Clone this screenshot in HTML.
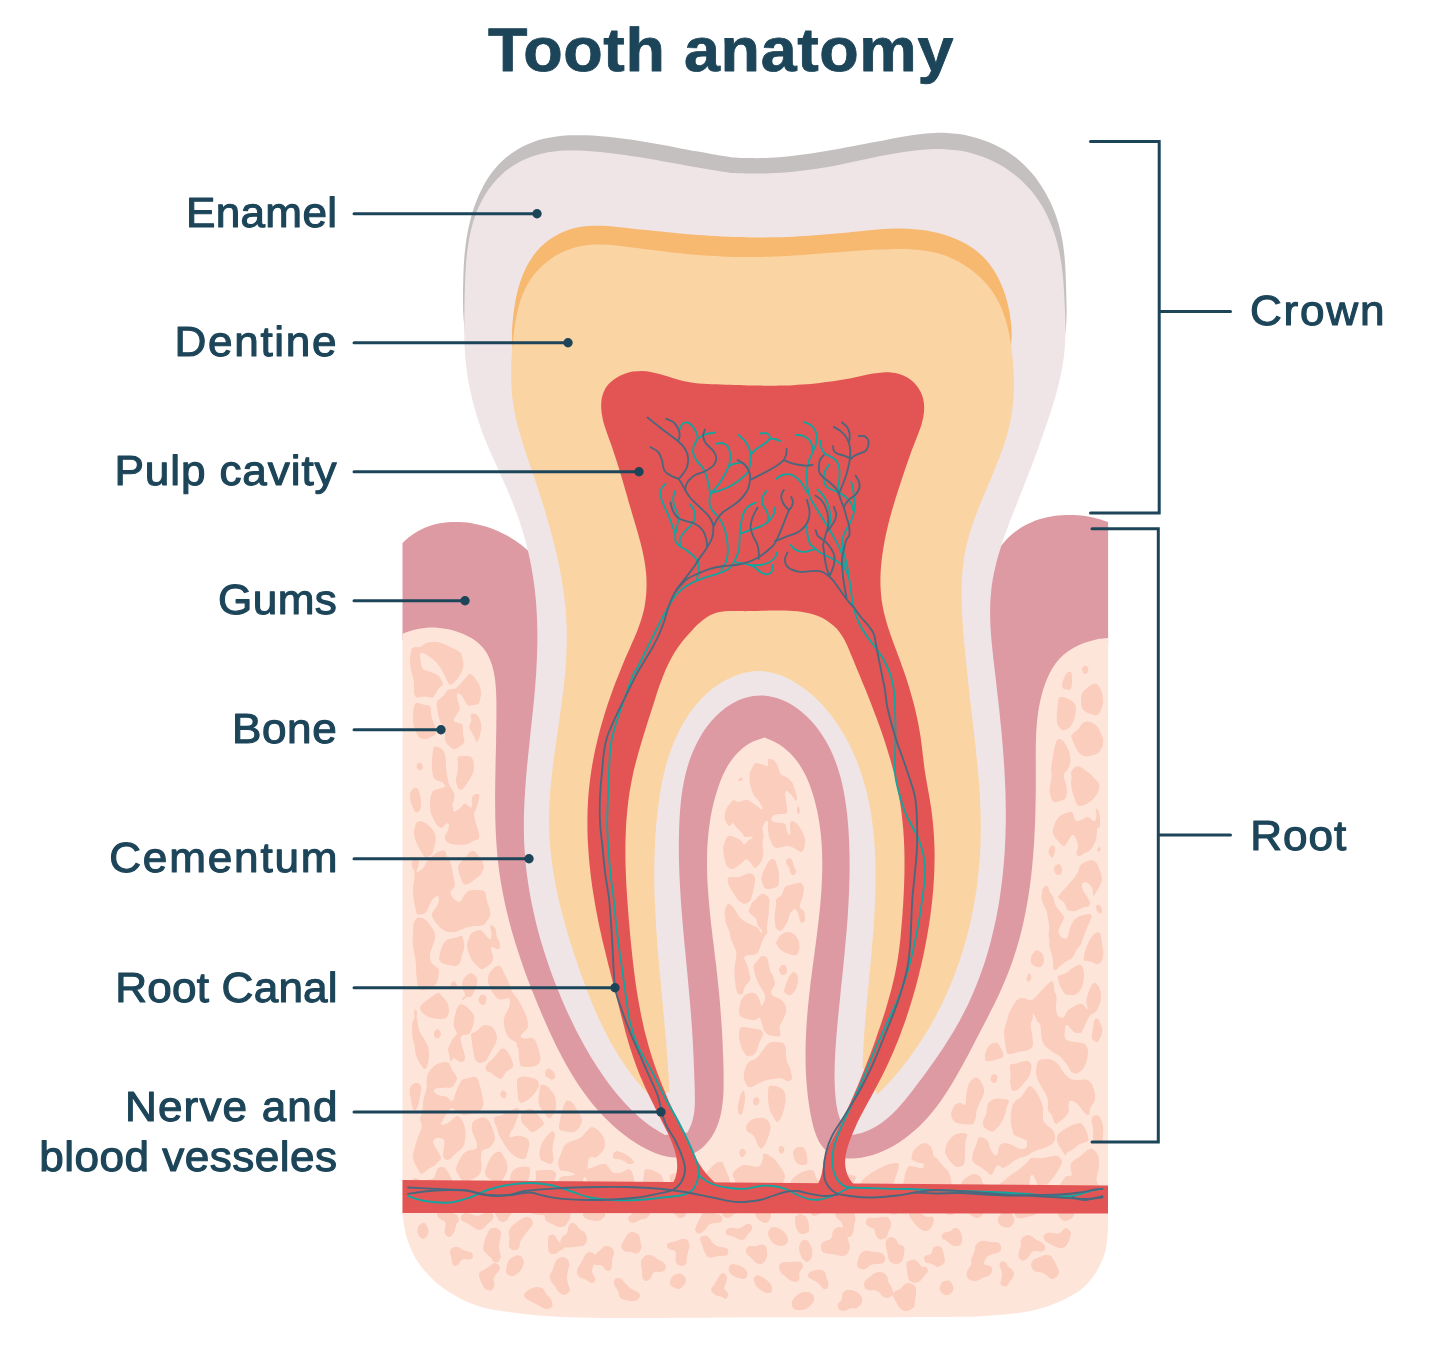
<!DOCTYPE html>
<html lang="en">
<head>
<meta charset="utf-8">
<title>Tooth anatomy</title>
<style>
html,body{margin:0;padding:0;background:#fff;}
body{width:1440px;height:1346px;overflow:hidden;}
svg{display:block;}
</style>
</head>
<body>
<svg width="1440" height="1346" viewBox="0 0 1440 1346" role="img" aria-label="Tooth anatomy diagram">
<path fill="#de9aa3" d="M402.5 640L402.5 543.1C403.5 542.2 406.4 539.3 408.5 537.6C410.6 535.9 412.7 534.4 414.9 533C417.1 531.6 419.4 530.4 421.7 529.2C424 528.1 426.4 527.1 428.8 526.3C431.2 525.4 433.7 524.7 436.2 524.1C438.6 523.5 441.2 523.1 443.7 522.7C446.3 522.3 448.9 522.1 451.4 522C454 521.9 456.6 521.9 459.3 522C461.9 522.1 464.5 522.3 467.1 522.6C469.7 522.9 472.3 523.3 474.9 523.9C477.5 524.4 480.1 525 482.7 525.7C485.2 526.4 487.8 527.2 490.3 528.1C492.8 529 495.3 530 497.7 531C500.1 532.1 502.5 533.3 504.9 534.5C507.2 535.7 509.5 537 511.8 538.4C514 539.7 516.2 541.2 518.3 542.7C520.4 544.2 522.4 545.8 524.4 547.4C526.3 549 529.1 551.7 530 552.5L1000.5 546.5C1001.4 545.5 1003.9 542.2 1005.7 540.2C1007.5 538.3 1009.4 536.4 1011.4 534.7C1013.4 533 1015.4 531.4 1017.6 529.9C1019.7 528.4 1021.9 527 1024.2 525.8C1026.5 524.5 1028.8 523.4 1031.2 522.4C1033.5 521.3 1036 520.4 1038.4 519.6C1040.9 518.8 1043.4 518.1 1046 517.5C1048.5 516.9 1051.1 516.4 1053.7 516C1056.3 515.6 1058.9 515.4 1061.5 515.2C1064.2 515 1066.8 514.9 1069.4 514.9C1072.1 514.9 1074.7 515 1077.4 515.2C1080 515.4 1082.7 515.7 1085.3 516.1C1087.9 516.5 1090.5 516.9 1093.1 517.5C1095.6 518.1 1098.2 518.7 1100.7 519.4C1103.2 520.2 1106.9 521.5 1108.1 521.9L1108.1 645L1070 700L1070 1170L470 1170L470 700Z"/>
<path id="bone" fill="#fee5da" d="M402.5 633.8C404.3 633.1 409.7 631 413.4 630C417.1 629 421 628.3 424.9 627.9C428.9 627.5 432.9 627.4 437 627.7C441.2 628 445.5 628.6 449.7 629.5C453.8 630.5 458.1 631.8 462 633.4C465.9 635 469.7 636.9 473 639.1C476.3 641.3 479.3 643.8 481.8 646.6C484.3 649.3 486.3 652.4 488.1 655.6C489.8 658.8 491.1 662.3 492.2 665.8C493.3 669.4 494.1 673.2 494.7 677C495.3 680.9 495.7 684.9 495.9 688.9C496.2 692.9 496.3 697 496.4 701.1C496.4 705.2 496.4 709.3 496.4 713.4C496.4 717.5 496.4 721.5 496.3 725.6C496.3 729.7 496.2 733.7 496.1 737.7C496.1 741.8 496 745.8 495.9 749.8C495.8 753.8 495.7 757.8 495.6 761.8C495.5 765.8 495.5 769.8 495.4 773.8C495.3 777.8 495.2 781.8 495.2 785.7C495.1 789.7 495.1 793.7 495.1 797.6C495.1 801.6 495.1 805.5 495.2 809.5C495.2 813.4 495.3 817.3 495.4 821.3C495.5 825.2 495.6 829.1 495.8 833.1C496 837 496.2 840.9 496.5 844.8C496.8 848.8 497.1 852.7 497.5 856.6C497.9 860.5 498.3 864.4 498.8 868.3C499.3 872.3 499.9 876.2 500.5 880.1C501.1 884 501.8 887.9 502.6 891.8C503.3 895.7 504.1 899.6 504.9 903.5C505.8 907.4 506.7 911.3 507.7 915.2C508.6 919.1 509.6 923 510.7 926.9C511.7 930.8 512.8 934.6 514 938.5C515.1 942.4 516.3 946.2 517.6 950.1C518.8 953.9 520.1 957.7 521.4 961.6C522.7 965.4 524 969.2 525.4 973C526.8 976.8 528.2 980.6 529.7 984.3C531.1 988.1 532.6 991.8 534.1 995.6C535.6 999.3 537.1 1003 538.7 1006.7C540.2 1010.4 541.8 1014.1 543.4 1017.8C545 1021.4 546.6 1025.1 548.2 1028.7C549.9 1032.3 551.5 1035.9 553.2 1039.4C554.9 1043 556.7 1046.6 558.4 1050.1C560.2 1053.6 562 1057.1 563.9 1060.5C565.8 1064 567.7 1067.4 569.7 1070.7C571.6 1074.1 573.7 1077.5 575.8 1080.7C577.9 1084 580.1 1087.3 582.4 1090.5C584.6 1093.7 587 1096.9 589.4 1100C591.9 1103.1 594.4 1106.2 597 1109.2C599.7 1112.2 602.4 1115.2 605.2 1118C608.1 1120.9 611 1123.8 614 1126.5C617.1 1129.2 620.2 1131.8 623.4 1134.3C626.6 1136.8 630 1139.2 633.4 1141.5C636.8 1143.7 640.3 1145.8 643.9 1147.7C647.5 1149.6 651.2 1151.4 654.9 1152.9C658.7 1154.4 662.5 1155.7 666.4 1156.5C670.2 1157.2 674.1 1157.6 677.9 1157.4C681.8 1157.2 685.6 1156.4 689.2 1155.2C692.8 1154 696.3 1152.2 699.4 1150C702.5 1147.7 705.5 1144.9 708 1141.8C710.5 1138.8 712.7 1135.4 714.5 1131.9C716.4 1128.4 717.8 1124.7 719 1121C720.2 1117.2 721.1 1113.3 721.7 1109.4C722.4 1105.4 722.9 1101.4 723.2 1097.3C723.5 1093.2 723.6 1089.1 723.6 1085C723.7 1080.9 723.6 1076.7 723.6 1072.6C723.5 1068.5 723.4 1064.5 723.3 1060.4C723.1 1056.4 723 1052.4 722.8 1048.4C722.7 1044.4 722.5 1040.4 722.3 1036.5C722.1 1032.5 721.8 1028.6 721.6 1024.7C721.3 1020.8 721 1016.9 720.7 1013C720.5 1009.1 720.1 1005.2 719.8 1001.3C719.5 997.4 719.1 993.5 718.7 989.6C718.3 985.7 717.9 981.8 717.5 977.9C717.1 974 716.6 970 716.2 966.1C715.7 962.2 715.2 958.2 714.7 954.2C714.3 950.3 713.8 946.3 713.3 942.3C712.8 938.3 712.3 934.4 711.9 930.4C711.4 926.4 710.9 922.4 710.5 918.4C710.1 914.4 709.7 910.3 709.3 906.3C708.9 902.3 708.6 898.3 708.3 894.3C708 890.3 707.7 886.3 707.5 882.3C707.3 878.3 707.2 874.3 707.1 870.3C707 866.3 707 862.3 707.1 858.3C707.1 854.3 707.2 850.3 707.4 846.4C707.7 842.4 707.9 838.4 708.3 834.5C708.7 830.5 709.2 826.6 709.8 822.7C710.3 818.8 711 814.9 711.8 811C712.6 807.1 713.5 803.2 714.5 799.4C715.6 795.5 716.7 791.7 718 787.9C719.3 784.1 720.7 780.3 722.3 776.6C723.9 773 725.6 769.4 727.6 766C729.7 762.6 731.8 759.4 734.3 756.4C736.8 753.5 739.5 750.7 742.5 748.2C745.5 745.8 748.8 743.6 752.4 741.8C756 740.1 762.3 738.3 764.3 737.6C766.2 738.4 772.3 740.6 775.8 742.5C779.4 744.4 782.6 746.7 785.6 749.2C788.6 751.6 791.4 754.4 793.9 757.3C796.4 760.2 798.7 763.4 800.8 766.7C802.8 770 804.7 773.5 806.4 777.1C808.1 780.7 809.5 784.4 810.9 788.2C812.2 791.9 813.4 795.8 814.5 799.7C815.5 803.6 816.4 807.6 817.3 811.5C818.1 815.4 818.8 819.4 819.4 823.3C820 827.3 820.5 831.2 820.9 835.2C821.3 839.1 821.6 843.1 821.8 847.1C822 851 822.2 855 822.2 859C822.3 862.9 822.3 866.9 822.2 870.9C822.1 874.9 822 878.8 821.8 882.8C821.6 886.8 821.4 890.8 821.1 894.8C820.8 898.7 820.4 902.7 820.1 906.7C819.7 910.7 819.3 914.7 818.8 918.6C818.4 922.6 817.9 926.6 817.4 930.6C816.9 934.5 816.4 938.5 815.9 942.5C815.4 946.4 814.8 950.4 814.3 954.4C813.8 958.3 813.2 962.3 812.7 966.2C812.2 970.2 811.7 974.1 811.2 978.1C810.7 982 810.2 985.9 809.8 989.9C809.3 993.8 808.9 997.7 808.5 1001.7C808.1 1005.6 807.7 1009.5 807.4 1013.4C807.1 1017.4 806.8 1021.3 806.5 1025.2C806.3 1029.2 806 1033.1 805.9 1037C805.7 1041 805.6 1044.9 805.6 1048.9C805.5 1052.8 805.5 1056.8 805.6 1060.8C805.6 1064.7 805.7 1068.7 805.9 1072.7C806.1 1076.7 806.4 1080.7 806.7 1084.7C807 1088.7 807.5 1092.8 807.9 1096.8C808.4 1100.9 809 1104.9 809.7 1109C810.3 1113 811 1117.2 812 1121.2C812.9 1125.2 813.9 1129.2 815.3 1132.9C816.7 1136.7 818.2 1140.4 820.2 1143.6C822.3 1146.7 824.6 1149.6 827.5 1151.8C830.3 1154 833.8 1155.6 837.4 1156.7C841 1157.8 845 1158.2 849 1158.4C852.9 1158.6 857 1158.3 861 1157.7C865 1157.1 868.9 1156.2 872.8 1155C876.7 1153.8 880.5 1152.3 884.2 1150.6C887.9 1148.9 891.5 1147 895 1144.9C898.5 1142.9 901.8 1140.6 905.1 1138.3C908.3 1135.9 911.3 1133.4 914.3 1130.8C917.3 1128.2 920.1 1125.5 922.8 1122.7C925.6 1119.9 928.2 1117 930.7 1114C933.2 1111 935.6 1107.9 938 1104.7C940.4 1101.6 942.6 1098.3 944.8 1095C947 1091.7 949.2 1088.4 951.2 1085C953.3 1081.6 955.3 1078.1 957.3 1074.6C959.3 1071.1 961.2 1067.6 963.2 1064.1C965.1 1060.5 967 1057 968.9 1053.4C970.7 1049.8 972.6 1046.2 974.5 1042.7C976.3 1039.1 978.2 1035.5 980 1032C981.9 1028.4 983.8 1024.9 985.6 1021.3C987.4 1017.8 989.3 1014.2 991 1010.6C992.8 1007.1 994.6 1003.5 996.3 999.9C998 996.4 999.7 992.8 1001.3 989.2C1002.9 985.6 1004.5 981.9 1006 978.3C1007.5 974.6 1009 971 1010.3 967.3C1011.7 963.6 1013 959.9 1014.2 956.1C1015.4 952.4 1016.6 948.6 1017.7 944.8C1018.8 941 1019.8 937.2 1020.8 933.4C1021.8 929.6 1022.7 925.7 1023.5 921.9C1024.4 918 1025.2 914.1 1025.9 910.2C1026.7 906.3 1027.3 902.4 1028 898.5C1028.6 894.6 1029.2 890.6 1029.8 886.7C1030.3 882.7 1030.8 878.8 1031.3 874.8C1031.7 870.8 1032.1 866.8 1032.5 862.8C1032.9 858.8 1033.2 854.8 1033.5 850.8C1033.8 846.8 1034.1 842.8 1034.3 838.8C1034.5 834.8 1034.7 830.8 1034.9 826.7C1035.1 822.7 1035.2 818.7 1035.3 814.7C1035.5 810.7 1035.5 806.6 1035.6 802.6C1035.7 798.6 1035.7 794.6 1035.8 790.5C1035.8 786.5 1035.8 782.5 1035.8 778.5C1035.8 774.5 1035.8 770.5 1035.8 766.5C1035.8 762.5 1035.7 758.5 1035.8 754.5C1035.8 750.5 1035.8 746.5 1035.9 742.6C1036 738.6 1036.1 734.7 1036.3 730.7C1036.6 726.8 1036.9 722.9 1037.3 719C1037.7 715.1 1038.3 711.2 1038.9 707.4C1039.6 703.5 1040.4 699.7 1041.4 695.9C1042.4 692.1 1043.5 688.3 1044.9 684.6C1046.2 680.8 1047.7 677.1 1049.5 673.5C1051.3 670 1053.4 666.5 1055.7 663.3C1058.1 660.2 1060.8 657.2 1063.8 654.6C1066.8 652 1070.2 649.7 1073.7 647.7C1077.2 645.8 1080.9 644.1 1084.7 642.7C1088.5 641.4 1092.5 640.3 1096.4 639.5C1100.3 638.7 1106.2 638.3 1108.1 638.1L1108 1227C1107.5 1231.2 1107.6 1244.1 1105 1252.5C1102.4 1260.9 1097.9 1270.4 1092.5 1277.5C1087.1 1284.6 1082.1 1289.6 1072.5 1295C1062.9 1300.4 1049.6 1306.5 1035 1310C1020.4 1313.5 1002.5 1314.8 985 1316C967.5 1317.2 949.2 1316.8 930 1317C910.8 1317.2 889.2 1317.2 870 1317.2C850.8 1317.2 833.3 1317.2 815 1317.2C796.7 1317.2 780.8 1317.2 760 1317.3C739.2 1317.4 712.5 1317.7 690 1317.8C667.5 1317.9 646.2 1318.1 625 1318C603.8 1317.9 581.2 1317.9 562.5 1317C543.8 1316.1 527.1 1314.5 512.5 1312.5C497.9 1310.5 486.7 1309.2 475 1305C463.3 1300.8 451.7 1294.2 442.5 1287.5C433.3 1280.8 425.8 1272.9 420 1265C414.2 1257.1 410.4 1248.3 407.5 1240C404.6 1231.7 403.3 1219.2 402.5 1215Z"/>
<path fill="#fbcdbd" d="M434 697q-2 1-6 0-4-1-8 0-4 1-4 0-1-1-2-4 0-3 0-8 0-5-2-11-2-5-2-15 1-10 2-11 2-1 5-1 3 1 5-1 2-2 4-3 2-1 7-1 5-1 15 4 11 5 13 7 1 3 2 8 2 5-3 14-6 9-8 9-2 1-3 0-1-1-4-8-3-6-5-9-2-3-4-5-3-3-9-7-7-4-7 0 0 4 1 9 0 6 7 7 7 2 9 4 3 1 4 5 2 2 2 4 0 2-3 3-2 2-4 6-2 3-2 4zM1087 673q-1 1-2 1-2 0-2-2-1-2-1-3 0-2 2-3 1-1 2 0 2 0 2 2 1 1 0 3 0 1-1 2zM1069 690q-1 0-4-1-3 0-3-3 0-4 2-8 2-5 4-6 2-1 3 0 1 0 1 8 0 7-1 8 0 1-2 2zM460 746q-5 4-7 3-2-1-6-5-3-4-2-11 2-6-2-7-3-2-5-12-2-11-1-13 1-1 5-4 3-2 4-5 2-3 6-3 4 1 10-7 6-7 7-8 1-1 3 1 2 1 5 6 4 5 4 13-1 7-2 9-1 2-6 2-5 1-5 0-2-1-3-4-2-4-4-6-3-2-3-2-1 0-1 3 0 4 2 8 2 6-1 8-2 4-4 7-1 3 2 3 4 1 6 2 1 2 1 7 0 5 1 8 2 4-4 7zM1100 712q-2 5-9 2-7-2-9-6-1-2-1-8 0-5 1-6 0-2 4-5 4-4 7-5 3-1 5 1 2 2 4 8 1 5 1 10-1 5-3 9zM1070 727q-4 4-7 3-3-1-5-4-2-4-1-14 1-12 2-14 1-2 7 0 6 2 9 6 2 4 0 12-2 8-5 11zM431 737q-3 2-6 2-3 0-5-1-2-1-4-6-3-5-3-13 0-8 1-13 2-4 4-3 3 1 7 2 4 0 5 1 1 1 1 7 0 5 3 11 3 6 2 9-1 3-5 4zM479 739q-2 3-3 3 0 0-1-4-2-3-4-7-3-3-1-7 2-3 1-6-1-4 0-4 1-1 4 0 3 0 5 6 2 6 1 11-1 5-2 8zM1093 755q-5 2-9 1-5-1-9-10-4-9-4-10 1-2 5-5 4-3 5-6 2-3 4-3 2-1 5 0 2 0 4 2 3 1 6 7 2 5 3 8 0 3 0 6-1 3-3 6-2 3-7 4zM1060 801q-4 2-6 1-1 0-2-2-1-2-2-6-1-5 1-13 1-7 0-10 0-3 1-9 1-6 2-13 2-7 3-9 1-1 2-1 1 0 3 1 2 1 5 7 3 5 3 9 1 4 0 8-1 4-3 6-2 2-3 4-1 2 1 7 2 5 2 11-1 6-2 7-1 1-5 2zM470 843q-4 2-9 2-5 0-10-1-5-2-6-5-1-3 2-7 2-4 2-6 0-3-1-3-1 0-4 3-2 2-3 2-1 0-3-2-2-2-5-8-3-5-3-12 0-8 1-11 1-3 2-4 1-1 5-2 5-1 7-2 1-1-1-3-2-3-5-3-3 0-5-3-2-3-2-13 0-10 1-13 0-4 1-5 1-1 4 0 4 1 6 5 2 4 2 14 1 10 2 14 1 6 3 8 2 2 3 5 1 3 0 7-2 4-1 8 0 5 3 3 3-1 6-5 2-4 5-1 3 2 4 3 1 0 1-5-1-5 1-7 3-3 4-2 1 0 2 0 1 1-1 9-2 7-3 8-1 1-1 3 0 1 1 6 1 4 3 10 2 5 1 8-1 2-3 2-2 0-6 3zM468 782q-6 9-7 8-1 0-3-2-1-2-2-6 0-4 1-8 1-4 1-10-1-6 0-7 0-1 6-1 6 0 7 1 1 1 2 3 1 2 1 8 0 5-6 14zM735 868q-7 4-10-7-3-11-1-17 2-6 4-8 2-1 6 1 5 2 6 3 2 1 3 3 1 3 3 0 2-3 5-4 2-2 2-2-1-1-4 0-3 0-4 0-1 0-3-4-3-3-5-5-2-2-3-4 0-2-2 0-2 2-3 2-1 0-3-4-2-4-1-8 0-3 3-8 4-5 5-6 1 0 3 1 2 2 6 0 4-2 6-1 2 1 9 6 6 5 6 3-1-2-2-4-1-3-5-7-4-4-6-14-1-9 0-12 1-2 3-6 2-3 3-3 2 0 8 2 5 3 4-1 0-4 0-5 1 0 2 0 2 0 4 1 1 2 3 4 1 2 2 6 1 5 5 6 3 1 6 4 3 2 5 10 2 7 2 9 0 1-1 2 0 0-3-4-3-4-6-6-3-1-1 10 2 11 1 12-1 1-7 1-6 0-8 3-2 3 2 5 4 1 8 1 4 0 4 4 1 5 2 7 1 2 2 0 1-1 0-5 0-3 0-5 0-2 2-3 1 0 3 1 1 1 3 3 2 2 5 8 3 7 2 11-1 6-2 7-1 1-2 1-1 0-7-4-6-3-8-2-4 1-8 2-4 1-7-6-3-6-3-13 0-7 0-8-1 0-3 1-1 2-2 4-1 2 0 6 1 4 0 8-1 4 0 10 1 6-1 10-2 4-4 6-2 2-3 2-1 0-5-6-4-5-6-1-3 3-9 7zM421 770q-1 1-2 0-1 0-2-2-1-1 0-3 0-1 1-2 2-1 3 0 1 0 1 2 1 1 1 3-1 1-2 2zM1084 805q-2 1-4 1-2 0-3-1-1-2-4-11-2-8-2-12 1-4 0-8 0-4 3-6 2-2 5-2 2 1 6 4 5 3 9 8 5 4 5 6 1 2 0 5 0 2-2 5-2 4-6 7-4 3-7 4zM742 780q-2 1-2 1-1 0-2-1 0 0 2-2 2-1 3 0 0 1-1 2zM418 812q-2 1-2 0-2 0-2-2-1-2-3-7-1-6-1-9 1-4 3-5 1-2 4-1 2 2 2 4 1 2 2 9 0 8-1 9 0 1-2 2zM800 812q-1 2-2 2 0 0-1-2 0-1 0-4 1-3 2-1 1 2 1 5zM1082 855q-3 2-4 1 0 0-1-1-1-1 0-4 1-3 1-5 0-2-2-7-2-5-4-4-1 1-4 6-3 6-4 5-2 0-6-5-4-4-5-7-1-3 1-8 1-4 4-8 2-3 8-5 5-2 6-1 1 0 2 6 2 5 7 2 5-3 7-3 2 1 4 3 3 3 4-1 1-3 0-7-1-2 0-3 2-1 2 1 1 2 2 8 0 6 0 8-1 2-2 2-1 0-1 3 0 3-1 9-2 5-4 8-2 3-5 4-3 1-5 3zM428 857q-2 1-3 0-1 0-6-9-5-9-5-16 1-6 2-8 0-2 2-2 0-1 2-1 2 0 7 3 5 4 7 8 3 5 1 12-2 8-3 10-2 2-4 3zM1053 857q-1 1-2 0-1-1-2-3-1-2 0-4 0-2 2-4 1-1 3 0 1 1 1 2 0 2 0 4-1 3-2 5zM1100 851q-1 1-2 1 0 0-1-2 0 0 1-2 1-2 2 0 1 1 0 3zM460 930q-4 3-12 2-6-1-12-9-5-7-4-9 0-2 3-5 3-4 4-9 0-4-1-4-2 0-4 2-2 1-5 8-2 7-6 8-5 1-6 0-1-1-3-13-2-11 0-20 1-8 0-11-2-2-2-4-1-3 1-6 1-3 3-3 0 1 2 3 2 2 0 7-2 5-1 5 1 0 4-2 3-2 4-5 1-2 4-6 4-4 9-7 5-2 6-2 1 1 2 3 0 3 3 6 2 4 4 15 2 10 2 12-1 2-4 5-2 3 2 7 4 4 6 4 2 0 4-5 3-4 5-6 2-1 8-1 7 0 8 1 2 1 2 6 1 5 3 10 2 5 1 8 0 2-3 6-2 3-3 4-2 1-10 1-8 1-14 4zM468 884q-3 1-4 0-2-1-4-8-2-6-2-8 0-2 1-4 2-2 5-5 3-3 4-5 2-3 4-3 2-1 6 4 4 5 5 8 1 3 1 4 0 2-2 5-1 3-4 5-2 1-5 4-3 2-5 3zM795 874q-1 2-3 1-1-1-2-3 0-4-2-6-2-2-2-4 0-2 1-3 1-1 3-1 2 1 3 4 0 4 2 6 1 2 1 3 0 2-1 3zM774 888q-3 1-6 1-2 0-3-1-1 0-3-6-2-5 2-12 4-8 5-9 1-1 3-2 2 0 3 1 1 1 2 6 2 4 2 12 0 6-1 8-1 1-4 2zM1078 910q-3 2-7 1-4 0-5-4-1-5-5-7-3-2-3-3 0-1 10-12 10-11 11-16 1-5 6-7 5-2 7-2 1 0 4 2 2 3 4 9 2 5 2 8 0 3-4 10-4 7-5 7 0 0 0-4 0-2-1-4-1-2-3-4-1-1-4-2-3 0-3 4 0 4 4 9 3 5 4 7 0 2-1 4-1 1-4 1-3 1-7 3zM1061 874q-1 1-3 1-2 0-3-2-1-2-1-5 0-2 2-3 2-1 3-1 1 0 2 2 1 2 1 4 0 2-1 4zM747 903q-2 1-3 1-2-1-6-4-3-4-6-9-4-6-4-9-1-2 0-4 1-1 6-1 4 1 10-2 6-3 8-1 3 1 3 5 0 5-2 13-2 8-3 9-1 1-3 2zM785 926q-3 5-5 5-3-1-4-3-1-2-1-6-1-4 0-10 1-6 1-10-1-3 3-5 3-1 4-5 1-4 2-5 1-1 5-2 5-2 8-2 3-1 4 1 1 1 2 4 0 4-2 11-3 7-2 9 2 1 4 3 1 3 1 7 0 3-1 4-1 1-2 1-2 0-3-7-2-6-4-7-1 0-3 2-2 1-3 6-1 5-4 9zM1058 968q-2 3-4 2-1-2-1-7 0-6-2-11-2-5-2-8 1-2 0-6-1-4 0-7 1-3-1-12-1-9-3-11-1-2-3-7-1-4 0-8 0-4 2-6 2-2 3-1 1 0 2 4 1 3 3 5 2 2 2 5 0 4 5 10 5 6 5 8-1 3-4 8-2 4-1 8 1 3 4 4 3 1 4 0 1 0 2-7 2-7 5-11 4-4 9-5 5-1 7-1 1 1 2 2 0 1-5 12-4 10-5 13 0 3-3 6-3 3-4 6-1 3-3 5-1 1-7 4-5 4-7 6zM742 994q-2 1-3 0-1 0-2-2-1-2-2-11-1-9 0-17 2-8 1-13-2-5-4-9-2-4-2-8-1-4-3-8-2-4-2-10-1-6 1-9 1-3 2-3 1-1 5 3 3 4 5 8 3 4 6 6 3 2 8 4 5 2 7 4 1 3 2 4 1 0 1-2 0-1-2-3-2-1-3-5 0-5-4-7-3-2-4-4-1-1 1-5 1-4 6-8 4-5 6-5 1-1 4 1 2 2 3 3 1 2 0 9 0 7-1 12-1 5-1 10 1 5-1 6-2 1-5 10-3 9-5 9-1 1-5 1-4 0-6 1-2 2 1 6 2 4 3 10 2 6 1 8 0 1-2 3-2 1-4 6-1 5-2 5zM1101 913q-1 1-2 0-1 0-2-2-1-3-1-4 0-1 1-2 1-1 2 0 1 0 2 2 1 2 1 3 0 2-1 3zM430 988q-6 2-8 2-2 0-3-1-1-1-2-8-1-7-1-14 0-7-2-15-2-8-1-17 0-9 1-13 2-3 3-4 1-1 5 0 4 1 8 7 4 5 5 9 1 4-2 11-3 7-3 11 0 4 1 6 1 2 4 4 3 2 4 4 0 2-1 9-2 8-8 9zM489 965q-6 5-8 4-2-1-6-5-4-4-6-10-2-5-2-8 0-3 2-8 1-5 5-6 3-2 6-2 2 0 4 3 2 3 4 5 3 2 3 0 1-2 0-7-1-4-1-5 1-1 2-1 0 0 2 2 2 1 2 5 0 4 2 7 2 4 2 6 0 3-1 4-1 1-4-1-3-2-4 0 0 2 2 8 1 5-4 9zM797 955q-1 1-8-1-7-2-10-6-3-4-3-5 0-1 3-6 4-5 9-5 4 0 7 3 3 3 4 7 1 5 0 8-1 3-2 5zM1101 962q-3 4-7 1-4-2-7-2-3 0-3-1-1-2 2-12 4-10 8-14 4-3 6-1 1 2 2 11 2 8 1 12 0 3-2 6zM458 965q-2 2-9 0-7-1-8-3-2-2-2-3 0-2 2-10 3-9 8-10 5-1 9-2 3-2 4-1 1 1 2 7 1 5-1 9-2 4-2 8-1 4-3 5zM1042 966q-2 2-5 1-4-1-5-3-2-2-1-6 1-4 3-6 2-3 5-1 3 2 4 4 1 3 1 5 0 3-2 6zM780 1036q-1 1-6 0-4 0-7-2-3-2-5-10-2-8-4-6-1 2-4 2-2 0-8-1-5-2-6-3-1-2-1-5 0-3 2-10 3-7 8-8 5-1 7 1 2 2 4 7 1 5 2 5 0-1 1-2 1-1 2-5 1-5-4-11-4-6-6-13-2-7-1-10 1-2 4-5 2-3 4-4 1 0 2 0 2 0 3 2 1 1 2 8 1 6 4 10 2 5 2 7 0 2-2 5-2 2-2 4 0 2 1 3 2 2 6 3 3 1 6 5 3 4 2 9-1 4-4 10-4 5-2 9 1 4 0 5zM1078 993q-3 3-8 2-4 0-5-1-1-1-5-8-3-8-2-10 2-1 6-2 4-1 7-5 4-3 7-4 2-1 3 0 1 1 2 3 1 3 1 10-1 6-2 9-2 4-4 6zM786 974q-2 1-3 1-2 0-3-2-1-2-1-4 1-2 2-3 1-2 3-1 2 0 2 2 1 1 1 3 0 2-1 4zM535 1066q-2 1-7 1-6 0-7-1-1 0-2-8 0-8-1-10-2-2-1-4 0-2-3-3-4-1-7-6-3-6-3-11-1-5 2-11 4-6 4-10 0-4-1-5-1 0-5 1-3 1-6 0-2-1-7-9-4-8-3-12 0-4 4-8 3-4 5-4 2-1 3 0 2 1 4 7 3 5 6 13 2 7 6 11 3 3 6 10 4 7 5 11 1 4 1 7 0 3-1 4-1 1-3 3-3 2-3 4-1 2 2 2 3 1 6 0 3-1 6 2 2 3 4 11 3 9 0 12-2 3-4 3zM793 993q-2 3-5 2-3-2-4-3 0-2 2-8 3-8 4-9 2-2 3-3 1 0 3 1 2 2 2 6 0 3-1 7-1 4-4 7zM464 999q-1 2-1 1-1 0-1-1 0-1 2-2 2-1 0-5-2-4-2-8 0-4 3-7 3-3 5-4 2 0 3 1 2 1 3 3 2 1 1 6 0 5-3 9-2 4-3 5-1 0-3 0-2 0-4 2zM1031 979q-1 3-3 3-1 0-1-2-1-2 0-3 1-2 1-3 2-1 2 0 1 0 1 2 1 1 0 3zM456 988q-1 1-2 1-2 0-2-1-1-2-1-3 0-2 1-3 1-1 2-1 2 1 2 2 1 1 1 3 0 1-1 2zM1078 1073q-2 1-4 0-3 0-5-5-2-4-6-8-3-5-9-7-4-3-8-6-4-3-5-13 0-10-2-11-2-1-4-7-3-5-2 0 0 4-2 7-1 3 1 10 1 7 1 11 0 4-3 5-3 2-6 2-4 0-9 2-6 2-7 1-2-1-3-12-2-12 0-15 1-3 2-7 1-5 4-11 4-7 5-8 2-2 4-3 2 0 4 0 2 1 5 2 3 2 12-9 9-10 11-10 1 1 1 1 1 2 1 6 0 4 2 6 1 4 0 12 0 9 3 11 4 1 5 0 1-1 2-4 1-3 7-6 6-4 8-3 3 0 5 4 3 4 1-2-2-6 2-15 3-9 6-8 2 1 4 4 2 4 2 8 0 5-1 8-1 3-3 7-3 4-5 4-2 0-6 9-4 9-5 10-1 0-4 0-3 0-6-4-3-4-4-4-1 0-1 0-1 1-1 6-1 5 0 7 1 3 10 4 9 1 10 2 1 1 2 3 1 1 1 6 0 4-2 10-2 5-4 7-2 2-4 3zM446 1018q-3 1-6 1-4 0-8-1-4-1-7-3-3-2-4-4-1-1-1-4 1-3 10-9 8-6 9-5 1 1 4 4 3 3 5 7 1 4 1 8-1 4-3 6zM485 1004q-1 1-3 1-2-1-3-3-1-2 0-4 1-2 2-3 1-1 3 0 2 0 2 2 1 2 0 4 0 2-1 3zM464 1061q-2 1-3 1-1 0-4-2-3-2-3-2-1 0-2 2 0 1-1 1-1 1-1-2 0-2-1-5-1-3-1-5 1-3 3-7 2-4 4-6 3-2 1-5-2-3-2-5-1-2 1-11 2-8 4-10 3-2 8 2 5 5 7 8 1 3-1 11-2 6-4 8-3 1-6 1-4 1-1 11 3 9 3 11 0 2-1 4zM427 1067q-2 3-3 2-1-1-5-7-4-7-4-13 0-5-2-9-1-4-1-11 0-7 2-10 1-3 0-6 0-3 1-3 1-1 1 0 1 0 1 4-1 3 1 11 1 7 5 12 3 5 5 9 1 4 1 11-1 7-2 10zM1099 1040q-1 3-3 2-2-1-4-3-1-2 1-11 1-8 2-9 1-1 3 0 1 1 3 6 2 4 1 8-1 5-3 7zM484 1062q-2 1-5 1-2-1-3-2-1-1-2-5-1-5-2-13-1-7-1-9 1-1 4-2 3-2 5-4 2-3 5-3 3 0 5 1 2 0 3 2 2 2 3 5 1 3 1 5 0 4-6 14-5 10-7 10zM753 1055q-5 2-6 1-2-1-5-7-3-7-3-13 0-6 1-8 2-2 10 0 8 1 11 2 2 2 2 4 0 2-2 5-2 3-3 8-1 5-5 8zM439 1038q-1 1-3 0-1 0-2-2 0-2 0-3 0-2 2-3 1-1 2-1 2 1 2 2 1 2 1 4-1 1-2 3zM757 1084q-6 4-8 3-2 0-4-5-2-4-1-7 0-4 2-9 2-5 7-6 5-2 7-6 2-3 6-8 4-5 10-4 7 0 8 2 2 2 2 10 0 6 2 10 2 2 3 8 1 5 1 6 0 2-2 3-2 1-5-1-3-3-12-1-9 1-16 5zM995 1060q-7 2-8 1-1 0-2-1 0-1 0-6 1-4 3-7 2-3 5-4 3-1 5 0 1 2 4 7 2 6 1 7-1 1-8 3zM504 1075q-2 4-4 4-2-1-5-3-3-3-6-4-3-1-3-2-1-2 0-4 1-2 3-4 3-2 7-7 4-6 5-6 1-1 4 0 2 1 6 9 3 7 2 9-2 2-4 3-3 1-5 5zM1063 1119q-7 6-7 5-2-1-3-5-1-5-4-7-2-2-1-8 1-6-6-16-7-11-6-18 1-7 2-9 2-2 10-2 8 0 14 11 6 11 16 10 8-1 10 0 2 2 4 4 1 3 3 9 1 7-2 11-4 4-3 7 0 3-2 4-2 0-5-4-3-5-8-9-5-3-6 0-1 4 0 8 0 4-6 9zM1017 1090q-3 1-4 1-1 0-2-3-1-4-1-8 1-5 0-10-1-6 2-6 4 0 8-2 6-1 8-1 2 1 3 3 1 2 0 6 0 5-6 12-5 6-8 8zM426 1171q-4 3-4 3-1 0-2-1 0-1-4-7-3-6-3-8-1-2 2-11 2-9 5-15 3-6 1-9-2-4 0-7 1-4 2-10 0-7 2-12 2-6 2-9-1-3 0-7 0-3 2-6 1-2 3-4 2-2 5-4 3-1 7-2 4 0 5 1 1 1 2 5 2 4 4 6 2 3 2 5-1 3-3 6-2 3-5 3-3-1-8 0-5 0-6 1-2 1-1 2 0 1 2 3 2 1 6 2 5 0 8 4 3 3 4-2 1-4 4-11 3-6 4-7 1-1 7-2 6-2 7-1 2 2 3 6 2 5 4 16 2 11-6 13-9 3-13 3-5-1-8-4-3-4-5-3-2 2-6 8-3 6-4 7 0 1 1 2 2 0 6-2 4-3 6-5 2-2 4-2 1 0 4 4 2 4 3 8 1 4 0 12-1 8-5 10-4 3-7 6-3 4-6 4-2 0-3-2-2-2 0-10 1-8 0-8 0-1-4-2-4-1-5 1-2 1-2 3 0 2 4 8 4 6 4 8 0 2-3 4-2 3-6 5-3 1-6 4zM554 1079q-2 1-4 0-2-1-3-2-2-1-2-3 0-2 1-4 2-2 4-1 2 1 4 3 1 2 1 4 0 2-1 3zM996 1082q-1 1-2 1-2 0-3-2-1-1 0-3 0-2 1-3 2-1 3-1 1 1 2 2 1 2 0 3 0 2-1 3zM526 1101q-5 2-6 2 0-1-2-4 0-4-1-11 0-6 0-8 1-2 3-3 2-1 9 0 8 2 9 4 1 3 1 5-1 2-4 7-4 5-9 8zM973 1124q-3 1-10 0-7 0-9-3-2-2-3-6 0-3 2-7 1-3 3-4 2-1 4-1 2 0 4 2 2 2 2-8 1-9 3-14 3-4 5-5 2-2 6 2 3 4 4 9 1 5-4 13-4 8-4 14-1 6-3 8zM417 1108q-2 4-3 2-2-2-3-10-2-8-1-12 1-3 3-4 3-2 5-1 2 1 3 3 1 2-1 10-1 8-3 12zM554 1113q-3 6-5 5-2-1-7-8-5-6-3-15 1-9 2-10 1-1 3 0 2 0 4 2 3 3 6 7 2 4 2 8 1 5-2 11zM781 1118q-3 4-3 4-2 0-3-2-1-2-4-7-3-6-3-16 0-10 1-11 1-1 6 0 6 1 9 5 3 5 1 14-2 9-4 13zM993 1173q-1 2-2 2-2-1-5-4-4-3-9-6-5-3-5-6 0-4 2-9 2-4 3-8 1-4 2-5 1 0 5 1 4 2 5 6 0 4 4 9 3 5 5 0 0-5 2-8 2-2 5-2 3 0 9 3 5 3 8 3 4 0 5-3 0-3 0-5-1-1-6-3-5-2-7-3-1-1-3-11-1-10 1-17 2-6 6-8 3-1 6-6 3-5 4-6 2-1 3-1 1 1 3 3 3 3 6 10 4 8 3 13 0 4 0 8 1 3 5 6 3 2 5 4 1 2 2 5 0 3 0 5-1 2-2 3-1 2-9 5-8 2-13 5-5 4-8 4-3 0-5 2-4 1-8 5-6 4-7 4-1 0-3-2-2-2-4 1-2 3-3 6zM742 1114q-2 2-3 0-1-1-1-4-1-3 1-9 1-7 3-9 2-2 2-1 1 2 1 9-1 8-2 10 0 3-1 4zM505 1098q-1 1-2 0-1 0-2-2-1-1-1-2 1-2 2-3 1-1 2 0 2 0 2 2 1 1 0 3 0 1-1 2zM758 1105q-2 1-3 0-1 0-2-2 0-1 0-3 1-2 2-2 1-1 2-1 1 1 2 2 1 2 0 3 0 2-1 3zM994 1131q-2 1-4 0-2 0-5-3-4-4-1-9 3-5 3-11 1-5 2-6 1-1 5-3 4-1 10 0 4 0 5 2 0 1-1 3-1 2-2 6 0 3-2 7-2 5-5 9-4 4-5 5zM579 1128q-3 5-10 4-7-1-9-2-2-2 0-10 1-7 3-12 2-6 3-7 1-1 4 0 3 1 7 9 5 7 5 10 0 3-3 8zM526 1158q-1 1-4 1-2 0-4-1-3-1-8-6-4-4-7-10-4-6-5-10-1-5-3-8-1-2-1-5 0-3 4-3 3 0 10-4 7-4 9-4 2 0 2 2 0 3-2 9-2 6-4 10-3 3-3 5-1 2 0 3 1 1 5-1 4-1 9 1 5 2 5 5 1 2-1 9-2 6-2 7zM538 1129q-4 4-6 3-2 0-4-3-2-3-4-4-2-2-3-5 0-2 0-5 1-4 5-5 4-2 6-1 2 1 7 7 5 6 5 8-1 2-6 5zM1100 1143q-2 1-4-1-2-2-3-3 0-1 0-7 1-4-1-8-1-4 0-6 0-2 2-2 1-1 2-1 2 1 3 1 1 1 3 6 2 6 1 11 0 6-1 8 0 1-2 2zM471 1180q-5 2-6 2-1 0-3-1-1-1-3-5-3-4-3-7 0-3 4-10 4-8 10-9 4 0 6-1 1-1 1-5-1-4-3-8-3-6-2-10 0-4 2-5 2-2 6-3 6-2 8 2 3 3 5 10 2 6 2 9-1 3-3 6-2 3-6 4-3 1-4 2-1 1-1 9 1 8 0 11-1 3-3 5-3 2-7 4zM764 1146q-2 3-3 3-1-1-2-2-2-2-3-7-2-4-4-6-3-1-5-3-1-3-1-4 0-2 3-5 3-4 10-4 7-1 10 4 3 4 0 13-3 9-5 11zM1066 1155q-1 2-1 0-1-1-4-6-3-5-4-8 0-3 0-5 1-2 5-5 4-3 10-6 6-2 8-2 2 0 5 5 2 4 3 8 1 4 0 5-1 1-5 2-4 1-6 3-3 3-7 5-4 2-4 4zM627 1197q-7 1-18 1-11 0-15-1-4-1-5-3 0-2-1-7 0-5-2-9-2-3-3 3 0 7-1 11-1 4-7 5-5 1-10 0-5-1-5-9-1-8-1-9 1-1 2-2 1-1 6-1 5 0 7-1 2-1-1-2-3-1-7-2-5 0-6-1-1-2-2-6 0-4 2-8 2-4 3-8 1-4 9-7 9-2 13-8 5-6 7-6 4 1 7 4 3 3 5 7 1 4 1 7 0 3-3 7-4 4-5 5-2 1-5 0-4 0-4 6-1 5 0 6 0 0 8-3 8-3 10-2 1 1 4 5 2 5 7 4 5 0 7-2 4-2 5-2 2 1 3 3 1 2 2 7 0 6 2 11 1 5-1 6-1 0-8 1zM553 1162q-1 2-4 2-2-1-4-2-3-1-4-2-1-2-1-3-1-2 0-8 1-6 6-12 6-7 7-6 1 1 2 4 0 2-2 9-1 6 0 11 1 5 0 7zM962 1166q-2 1-4 1-2 0-3-1-2-1-6-6-4-6-4-8 0-2 1-6 1-4 5-8 4-4 6-4 2-1 5-1 4 0 5 1 1 1-1 5-1 4-1 14 0 9-1 11 0 1-2 2zM926 1197q-4 1-13 0-9 0-11 0-2-1-2-2 0-1 2-7 2-6 3-14 2-7 4-8 1 0 7 1 6 2 7 1 1-2 1-3 0-2-4-2-2 0-6-2-4-1-2-6 1-5 5-8 3-3 7-4 4 0 7 4 2 3 2 6 0 3 2 4 2 1 4 4 3 4 6 7 4 2 6 11 1 8 0 9-1 2-4 5-3 2-10 3-7 0-11 1zM783 1153q-1 1-2 1-1-1-2-2-1-2 0-4 0-1 1-2 2 0 2 0 2 1 2 2 1 2 0 3 0 1-1 2zM807 1164q-1 1-6 1-5-1-7-7-2-6 0-8 2-3 4-3 4-1 6 1 2 2 3 8 1 6 0 8zM1074 1197q-5 1-12 0-6 0-8-1-2-2 5-10 6-9 7-10 2 0 4 0 3 0 1-5-1-6 0-7 0-2 5-5 4-2 8-6 4-4 6-4 2-1 4 1 3 3 4 5 1 2 1 9 0 6-2 11-1 5 0 7 0 2 2 3 3 2 2 5-1 3-1 4-2 1-3 0-2-2-4-1-2 1-5-2-4-3-6-5-4-1-4 1 0 1 0 5 1 4-4 5zM744 1156q0 1-2 1-2 0-2-2-1-1-1-3 1-2 2-3 1-1 2 0 1 0 2 1 1 2 1 3-1 2-2 3zM503 1179q-4 6-10 2-6-3-7-5-1-1-1-4 0-2 3-9 3-7 5-8 1-2 4-3 3-1 4 0 1 1 3 5 3 4 3 7 1 4 0 6 0 3-4 9zM632 1164q-1 0-3 0-1 0-5-3-4-2-7-2-3 0-4-1 0-2 0-4 1-2 2-2 1-1 2-1 1 0 6 2 5 2 8 5 3 4 3 4 0 1-2 2zM770 1196q-2 1-6 0-4 0-6-5-1-4-4 0-4 4-6 5-2 0-5 0-3-1-4-4-2-4-3-7-1-4-2-7-2-3-1-5 1-2 5-5 4-3 6-3 2 0 8 1 5 1 6 1 1 0 3-3 1-2 2-6 0-3 0-4 1-1 4 0 3 2 6 4 3 2 8 10 5 7 4 10-1 2-2 5-2 3-7 7-4 5-6 6zM1026 1197q-4 1-11 0-8 0-10-1-3 0-4-3-2-3-2-7 0-2 3-4 2-1 5-4 3-3 7-5 3-2 8-6 5-4 7-7 1-3 7-2 6 1 12-1 7-2 10-1 3 2 4 5 0 3-2 6-2 4-7 11-5 6-7 8-2 2-4 2-1 1-2-1-2-1-4-6-2-5-3-6-2-1-3 4-1 5 0 11 2 5 1 6-2 0-5 1zM728 1196q-4 1-8 1-4 0-6-1-2-1-4-4-1-4-3-10-2-6-2-7 1-1 4-5 3-4 7-7 4-2 6-1 1 0 2 4 2 4 3 7 2 3 3 9 1 7 1 10 0 4-3 4zM881 1197q-6 1-12 0-7 0-10-1-4 0-5-1 0-1 3-3 2-2 3-7 1-5 7-9 5-4 11-7 6-3 11-5 5-1 9-1 3 0-3 16-5 15-7 16-2 1-7 2zM452 1196q-4 2-16 1-10 0-13 0-2-1-3-3-2-2-4-1-2 0-3-2-2-3-1-7 0-4 1-5 2-2 5 0 4 2 9 1 5-1 7-2 1-2 2-6 1-4 4-5 4-1 8 5 3 5 6 12 4 6 3 9-1 2-5 3zM526 1197q-2 0-6 0-4 0-7-1-2-1-3-4-1-4 0-10 0-8 2-10 2-4 8-5 7-1 8 0 2 0 2 1 0 2 0 4 0 4-2 8-1 5 1 9 1 5 1 6-1 1-4 2zM660 1197q-2 0-8 0-5-1-7-2-2-1-2-13 1-14 3-13 2 0 6 1 5 2 8 4 3 2 4 11 1 9 0 10-1 1-4 2zM548 1196q-3 1-8 1-4-1-6-2-2-1 0-8 2-7 2-11-1-4 0-5 2-1 8-1 6 0 8 0 2 1 4 3 1 1-1 6-1 4-2 9 0 6-1 7-2 1-4 1zM807 1197q-5 1-12 0-7-1-7-1-1 0-1-2-1 0 2-9 3-8 11-12 10-4 11-3 1 0 3 1 0 1 2 6 1 4 4 3 2-1 6 1 4 1 7 7 3 6 2 7 0 1-4 2-3 0-8 0-5-1-6-1-1-1-2-4-1-3-2 0-2 4-6 5zM699 1197q-3 1-9 1-6-1-10-2-4 0-5-2-2-2-4-10-2-8-1-9 2-1 6-2 3-1 9 0 7 1 8 2 2 1 5 4 3 4 4 7 1 2 0 6 0 4-3 5zM983 1197q-6 1-13 0-8 0-11-1-3-1 0-8 3-8 8-11 5-3 7-3 2 0 4 1 2 1 3 3 1 1 1 4 1 2 4 3 4 2 5 4 2 1 1 3 0 2-1 3-1 1-8 2zM849 1196q-3 1-5 0-2-1-4-8-2-6-1-9 2-3 5-4 4-1 8 0 3 1 4 2 0 1-2 5-2 4-2 8 0 4-3 6zM488 1196q-2 1-13 1-11-1-12-1-1-1-1-2 0-2 1-3 1-1 6-5 5-2 9-3 4-1 8 5 5 7 2 8z"/>
<path fill="#fbcdbd" d="M629 1233q-2 1-5 7-3 5-3 7 0 1 1 2 1 1 2 2 2 1 4 1 3-1 5 1 3 1 5 0 2-1 3-4 1-2 0-5-1-3-1-5 0-2-1-4-1-1-3-2-2-1-4-1-1 0-3 1zM525 1298q1 1 11 6 9 6 12 5 2 0 4-2 1-2 0-5 0-3-3-5-2-2-4-5-1-3-3-4-3-1-5-1-3 0-7 2-5 3-5 4-1 1-1 2 1 2 1 3zM700 1238q0 2 3 10 3 8 5 9 2 1 6 0 3-1 7-1 5 0 6-1 1-1 1-2 1-1 0-2 0-2-1-3-1 0-6-1-5 0-9-5-3-5-5-6-2-1-4 0-2 0-3 2zM442 1220q3 1 3 2 1 1 0 7-1 5 1 6 1 2 3 2 2 0 3-2 2-1 3-5 1-5 2-7 2-1 2-4-1-2-2-4-2-1-4-2-2 0-5-2-4-2-6-2-2 0-3 1-2 1-2 3 0 2 1 4 1 1 4 3zM583 1259q-2 4-4 7-2 3-2 5 0 1 0 3 1 1 2 3 2 1 4 2 3 0 5 2 2 2 4 2 2 0 3-2 1-3-1-5-2-3-2-5 0-2 2-7 2-5 1-7 0-3-2-4-2-1-4-1-2 1-3 2-1 1-3 5zM929 1263q3 1 5 2 2 1 3 2 2 0 3-1 2 0 3-2 1-1 2-3 0-1-1-6-1-5-2-7-2-2-4-2-1 0-2 0-2 1-3 2 0 1-1 4 0 2-3 3-3 0-4 1-1 1-1 3 0 1 1 2 0 2 4 2zM641 1266q1 2 1 7 0 5 1 6 1 1 2 2 2 0 4-1 2-1 3-5 2-4 6-3 4 0 6-1 1-1 2-3 0-2-1-4-1-2-4-3-3-1-5-3-3-2-5-3-2 0-4 0-3 1-4 3-2 2-2 4 0 2 0 4zM830 1254q4 0 7 1 2 1 5 1 2 0 4-1 2-2 3-4 1-2 1-4 0-2-1-4-1-3-2-7-1-4-2-6-1-1-2-2-2-1-4-1-2 0-3 1-2 1-3 3-1 2-1 5-1 4-4 4-4 1-6 3-2 2-1 5 0 2 1 3 1 2 3 2 1 1 5 1zM756 1276q-2 1-2 2-1 1 0 3 0 1 2 5 3 3 6 5 4 2 5 2 2 0 3 0 1-1 2-2 0-1 0-3 0-2-2-5-3-3-6-5-4-2-6-3-1 0-2 1zM616 1288q3 4 3 7 1 3 3 4 2 1 8 2 6 0 7-1 1 0 2-2 1-1 1-2 0-1-1-3-1-1-6-3-5-3-8-7-3-4-5-5-2 0-4 0-1 1-2 3-1 2 2 7zM522 1257q-1-1-2-1-2-1-3-1-2 1-6 3-3 3-4 7-1 4-1 6 0 2 1 3 1 1 3 2 1 0 3 0 2 0 5-3 4-3 5-7 1-4 1-5-1-2-2-4zM893 1295q0 2 3 7 3 6 5 7 2 2 4 2 3 0 5-1 2-1 4-3 1-3 1-5 0-3 1-7 0-4 0-6 0-1-1-3-1-1-3-2-2-1-3-1-2 0-4 1-1 1-3 3-1 2-4 3-3 1-4 2-1 1-1 3zM451 1256q0 1 1 5 0 3 1 4 1 1 2 1 1 0 3-1 1-1 2-3 1-3 6-3 4 1 5 0 2-1 2-2 0-2-1-4-1-1-6-2-4-1-6-3-1-1-3-1-2 0-3 0-2 1-3 2-1 2-1 3 0 2 1 4zM509 1234q1 3 0 7 0 4 0 6 1 1 2 2 2 2 4 1 2 0 3-1 2-2 2-6 1-4 7-11 5-6 6-8 0-2-1-4 0-1-2-2-2-2-4-1-2 0-9 5-6 4-7 7-2 2-1 5zM1075 1207q-1-2-3-3-1-1-3-1-1 0-5 1-3 1-5 4-2 4-1 5 0 2 1 4 1 1 2 2 1 1 3 2 2 0 5-1 4-2 5-5 2-3 2-5 0-2-1-3zM872 1275q-1 2-4 3-2 2-3 3-1 1-1 3 0 2 1 4 0 1 3 2 2 1 5 0 4 0 7 3 2 4 4 4 1 1 3 1 2 0 3-1 2-1 3-2 0-2 0-3 0-2-2-6-3-4-3-6 0-2-1-4-2-2-3-3-2-1-4-1-3 0-5 1-2 1-3 2zM800 1214q-1 0-2 1-2 1-3 2 0 1 0 5 0 4 2 8 2 3 4 4 1 0 3 0 1 0 2-1 2 0 3-2 0-1 0-5 0-4-2-8-2-3-4-3-1-1-3-1zM669 1211q4 2 7 4 2 3 3 3 2 0 3 0 2-1 3-2 1-1 1-3 1-2 2-4 1-2 1-4 0-2-1-3-2-1-3-1-1 0-4 2-3 3-7 1-4-2-6-2-2 0-3 2-1 1 0 3 0 1 4 4zM765 1223q2 0 3-1 1-1 2-3 1-2 1-6-1-4-3-8-3-3-5-4-1-1-3-1-2 0-3 1-1 1-2 3-1 2-1 6 1 4 3 8 3 3 5 4 1 1 3 1zM605 1246q-2 1-7 6-5 4-6 6 0 1 0 3 0 1 2 3 2 2 5 1 4 0 5 3 2 3 4 3 2 0 3-2 1-1 1-6 0-4 1-6 1-3 1-5 0-2-2-4-2-1-3-2-2 0-4 0zM1021 1244q0 2-2 7-1 5 0 7 1 1 2 2 2 1 4 0 3-1 5-5 1-4 6-4 5 1 7 0 1 0 2-2 1-2-1-4-1-2-5-4-3-1-5-3-2-2-3-2-2-1-4-1-2 1-4 2-1 1-2 3-1 1 0 4zM1008 1212q-3-1-6 1-3 2-4 5-1 3 1 6 1 2 5 3 3 1 6 0 3-2 4-5 1-3-1-6-1-3-5-4zM909 1214q-1 2 6 10 6 7 10 7 3 0 4-1 2-2 4-6 1-3 1-4 0-1-1-3-2-1-5 0-3 0-7-4-4-3-7-4-2 0-4 2-1 1-1 3zM945 1240q3 2 5 4 2 1 3 2 2 0 4 0 2 0 3-1 2-1 2-4 1-3-1-8-2-5-5-5-2-1-4 2-2 2-5 2-2 0-3 1-2 1-2 2-1 1 0 3 0 1 3 2zM886 1248q2 6 2 8 0 2 1 4 1 2 3 3 1 1 4 1 2 0 4-1 1-1 2-2 1-1 2-7 1-5 0-7-1-1-3-2-3 0-4-4-2-3-3-3-2-1-3-1-2 0-3 1-2 1-2 3-1 2 0 7zM731 1236q4 1 7 3 3 1 5 1 2-1 4-4 1-2 3-4 3-3 2-5 0-2-2-3-2-1-5 1-3 2-5 3-2 1-6 0-4 0-5 0-2 1-3 2 0 2 0 4 1 1 5 2zM816 1270q-4 1-6 2-2 2-2 3 0 1 0 2 1 1 5 3 5 2 7 5 3 4 4 4 1 0 3 0 1-1 1-3 1-2 0-5-2-3-2-5 0-2-1-4-1-1-3-2-3-1-6 0zM749 1256q3 2 4 4 2 2 3 3 2 1 4 1 2 0 3-1 2-1 3-4 2-3 1-7 0-4-1-5 0-1-2-2-2-1-5 0-3 2-5 1-3 0-5 0-2 1-3 3 0 1 0 3 0 2 3 4zM792 1305q0 1 1 3 2 1 3 2 2 0 7 0 4-1 7-4 3-3 4-5 0-2 0-4 0-1-2-3-1-1-3-2-1 0-6 0-4 1-7 4-3 3-4 5 0 2 0 4zM975 1248q0 2-2 7-2 4-2 6 0 1 1 3 2 2 4 3 2 1 5-1 2-1 4-6 2-5 8-6 5-1 6-2 2-1 2-3 0-2 0-3-1-2-2-3-1-1-6-1-5 0-8-1-3-1-6 1-2 1-3 3-1 1-1 3zM549 1236q-1 1-1 8 0 7 1 8 1 1 2 2 1 0 3 0 3 0 4-2 1-1 3-2 2 0 3-2 1-1 0-3 0-1-3-2-3-1-4-4-1-3-3-4-1-1-3 0-1 0-2 1zM701 1216q-1 2-4 8-2 5-2 6 1 2 2 3 2 1 4 0 2-1 5-4 2-4 4-5 2-1 6-1 4 0 5-1 1-1 1-2 1-2-1-4-1-2-4-2-4-1-7-2-3-2-6 0-2 1-3 4zM782 1274q2 1 6 5 5 3 7 3 3 0 4-2 1-2 0-5 0-3 2-5 2-2 2-4 0-2-2-4-2-1-11 0-8 0-9 1-2 2-2 4 0 2 1 4 1 2 2 3zM718 1278q-3 5-4 7-2 2-3 4 0 2 1 3 1 1 2 2 1 1 4 2 2 0 4 1 2 2 4 2 1-1 2-3 1-2-1-4-2-2-3-4 0-1 2-5 1-4 1-6-1-2-2-3-1-1-3-1-2 1-4 5zM489 1230q-1 2-4 9-2 7-2 10 1 3 3 4 2 2 5 5 2 4 3 4 2 1 4 0 1 0 2-3 2-2 0-6-1-4-1-6 0-3 1-7 1-5 1-8-1-2-3-3-3-2-5-1-3 0-4 2zM882 1217q-4 1-8 1-5-1-6 0-1 1-2 3 0 1 0 3 1 1 2 2 1 1 4 2 3 1 3 4 0 3 2 5 1 2 2 2 2 1 4 0 2 0 3-1 1-1 2-4 0-3 2-5 1-2 1-5 0-3-1-4-1-2-3-3-2 0-5 0zM968 1213q1 1 4 3 3 2 5 2 2 0 3-1 2 0 3-3 2-3 5-5 2-3 3-4 0-2 0-3-1-2-2-3-1-1-3-1-2 0-5 2-4 2-6 3-3 1-5 1-2-1-3 0-1 0-2 1-2 2-1 3 0 2 1 3 1 2 3 2zM566 1207q-2-1-5 1-3 1-6 0-3-1-4 0-2 0-4 2-2 1-2 3-1 3 0 5 0 1 1 3 1 1 6 3 5 3 7 3 1 0 3 0 3-1 4-2 2-2 4-7 1-5 1-7-1-2-2-3-2-1-3-1zM838 1219q2 1 3 3 2 2 2 8 1 5 3 7 1 1 3 0 2 0 3-2 1-1 2-6 0-5 1-7 1-3 0-6 0-3-2-4-3-2-5-2-2 0-5-1-2-1-3 0-2 0-3 1-1 1-2 3 0 2 1 3 0 2 2 3zM1044 1239q0 2 8 6 8 4 11 3 3-1 6-7 2-6 2-8-1-3-3-4-1-1-3-1-1 1-4 4-3 3-8 1-4-1-6 0-2 1-3 2-1 2 0 4zM943 1294q3 2 5 1 3-1 5-4 1-2 0-5-1-3-3-5-2-1-5 0-3 0-4 3-2 3-1 6 1 3 3 4zM844 1292q-2 1-2 4 0 3-1 5-2 1-3 3-1 1 0 3 0 2 2 3 2 1 3 1 2 0 4-1 3-2 5-2 3 1 4 0 2 0 3-2 2-1 3-3 0-2 0-5-1-3-4-5-3-2-6-3-4 0-5 0-2 0-3 2zM605 1216q0-1 0-3 0-1-2-2-1-1-5-3-4-1-8 0-4 1-5 2-1 2-2 3 0 1 0 3 1 1 2 2 1 1 5 2 4 1 8 1 4-1 5-3 2-1 2-2zM492 1208q0 2 4 7 3 6 4 6 1 1 3 1 2 0 3-1 2-1 3-4 1-2 3-4 2-1 3-3 0-3-1-4-1-1-3-2-2-1-4-3-2-2-6-2-3-1-5 1-2 1-3 3-1 2-1 5zM686 1280q0-3-3-5-2-2-6-1-3 0-5 3-2 3-2 6 0 3 3 4 3 2 6 2 3-1 5-4 2-2 2-5zM1000 1267q1 3 2 6 0 4-1 7-1 4 0 5 1 1 3 1 1 1 3 0 1-1 2-3 1-3 3-4 1-2 2-4 0-3-1-4-1-2-3-3-2-1-3-3-1-3-2-3-1-1-3-1-1 1-2 2-1 1 0 4zM638 1203q-1 7-5 10-5 4-5 5 0 2 2 4 1 1 3 1 2 0 5-2 3-2 6-2 2 0 4-2 1-1 2-3 0-2-1-4 0-2 0-6 0-5-1-7-1-2-3-2-2-1-4 0-2 1-3 8zM1018 1218q2 1 9-1 8-2 9-3 2-1 3-2 1-2 1-4 0-1-4-7-4-6-7-6-2-1-3 0-1 0-2 1-1 2-1 5 1 3-3 5-4 2-4 3-1 2-1 3 0 2 0 3 1 2 3 3zM672 1250q2 0 3 1 1 1 1 5-1 5 0 6 1 2 2 3 2 1 5 1 2-1 3-2 1-2 1-7 1-6 2-8 1-2 0-5 0-3-2-4-1-1-3-1-2-1-5 1-4 2-7 2-4 1-5 2 0 1 0 3 0 1 2 2 1 1 3 1zM564 1247q1 1 9 0 8-1 10-1 1-1 3-3 1-2 1-4 0-2-1-4 0-2-3-4-3-1-5-4-2-3-4-4-2 0-3 0-1 1-2 2-1 1-1 5 0 3-3 5-3 1-4 4-1 3 0 5 1 2 3 3zM533 1197q-2 4-3 6-2 1-2 3 0 2 0 4 1 1 2 3 1 1 10 2 9 0 10 0 2-1 3-2 1-1 1-3 0-1-1-3-1-2-6-3-4-1-4-5 0-3-1-4-2-2-3-2-2-1-3 0-2 1-3 4zM479 1275q0 2 2 7 3 6 4 7 1 1 3 1 2 1 4 0 1-1 2-3 1-2 0-5-1-3 0-4 0-1 3-5 3-3 3-5 0-2-1-3-1-1-2-1-1-1-3-1-1 0-4 3-4 2-6 4-3 1-4 2-1 1-1 3zM771 1228q-1 1-2 2-1 2-1 4 0 1 2 5 2 4 6 6 3 1 5 1 2 0 4-1 1-1 2-2 1-1 1-3 0-2-2-6-2-3-6-5-4-2-6-2-1 0-3 1zM972 1262q-1 4-3 6-2 2-2 4-1 2 0 5 1 2 3 3 2 1 4 1 3 0 5-1 2-2 6-3 4-1 5-2 2-2 2-4 0-1 0-3-1-1-2-2-2-1-4-1-3-1-3-4-1-2-2-3-2-2-3-2-2 0-3 1-1 1-3 5zM806 1262q2 0 3-1 1 0 2-2 1-1 1-5 1-4-1-8-2-4-3-5-1-1-3-1-1-1-2 0-1 1-2 2-1 1-2 6 0 4 2 8 1 3 3 4 1 1 2 2zM421 1238q2 2 4 0 2-1 3-4 1-3 0-6-1-3-3-5-2-1-4 1-3 1-3 4-1 3 0 6 1 3 3 4zM730 1265q-1 1-1 3-1 1 0 3 0 1 3 4 3 2 6 3 4 1 6 1 1-1 2-1 1-1 1-3 1-1 0-3 0-1-3-4-3-2-6-3-4-1-6-1-1 1-2 1zM467 1223q5 3 7 5 3 2 6 2 3-1 5-3 2-3 5-5 3-2 3-4 1-1 0-3 0-1-1-2-1-1-2-1-2-1-6 1-4 2-6 3-2 0-7-2-4-1-6-1-2 1-3 2-2 2-1 4 0 2 6 4zM1047 1255q-1-1-7 2-6 2-7 3-1 2-2 4 0 2 1 4 1 2 2 3 2 1 5 1 4 0 7 3 4 4 6 4 2 0 3-1 2-1 3-3 1-2 1-3 0-2-3-8-3-6-5-8-2-1-4-1zM554 1265q-1 5-3 8-2 2-1 5 0 3 3 6 2 2 4 6 3 4 5 4 1 1 3 1 2-1 3-2 1-1 2-3 0-1-2-6-1-4-1-7 0-2 1-7 2-5 1-7 0-3-2-4-3-2-5-2-3 1-5 2-1 2-3 6zM864 1251q-3 1-5 6-2 6-2 7 0 2 1 3 1 2 3 2 2 1 4 0 2 0 4-3 2-2 7-2 6 0 7-1 1-1 2-2 0-2 0-4-1-1-2-3-1-1-6-2-5 0-8-1-2-1-5 0zM731 1201q-1 2-4 5-4 3-4 4-1 1-1 4 1 2 2 3 2 1 4 1 2 0 5-3 3-2 5-3 3-1 4-3 2-2 2-4 0-2-2-4-1-2-1-4-1-2-2-4-2-1-3-1-1 0-2 1-1 1-2 4 0 2-1 4zM923 1267q-2 0-4-4-3-3-4-3-2-1-4 0-3 1-4 2-1 2 0 9 1 7 2 9 1 1 3 2 1 1 3 1 2 0 3-1 2 0 4-3 2-3 4-5 2-2 2-4-1-3-2-3-1-1-3 0zM899 1199q-2 4-6 6-4 2-5 4 0 2 1 3 1 2 3 2 1 1 4 0 3-1 6-1 3 1 5 0 1 0 2-2 2-1 2-3 1-2 0-6-1-4-2-6-1-2-3-2-1 0-3 0-1 1-4 5zM942 1193q-1 1-1 8 0 6 1 8 1 3 3 4 2 2 5 2 3 0 5-2 2-1 3-4 1-2 4-5 3-3 3-6 0-3-1-5-1-1-2-2-2-1-3-1-2-1-4 0-2 1-4 0-1-1-3-1-2 0-4 1-1 1-2 3zM820 1200q-2 2-6 4-3 2-4 4 0 1 0 3 0 2 1 3 1 1 3 2 2 0 5-2 3-2 5-2 3 0 4-1 2-1 2-4 1-3 3-8 3-4 2-6 0-3-2-4-2-1-4-1-2 1-5 6-2 4-4 6z"/>
<path fill="#c4c0c0" d="M470 352C469.5 350.1 467.6 344.4 466.7 340.6C465.8 336.8 465.2 332.9 464.6 329C464.1 325.1 463.8 321.2 463.5 317.2C463.2 313.3 463.1 309.4 463.1 305.4C463 301.5 463 297.5 463 293.5C463 289.6 463.1 285.6 463.2 281.7C463.3 277.7 463.4 273.7 463.6 269.8C463.7 265.8 464 261.9 464.3 257.9C464.6 254 465 250 465.5 246C466 242.1 466.6 238.1 467.3 234.1C468 230.2 468.8 226.2 469.8 222.3C470.8 218.3 471.8 214.4 473 210.6C474.3 206.7 475.6 202.9 477.1 199.2C478.6 195.5 480.3 191.9 482.1 188.4C483.9 184.8 485.9 181.4 488 178.1C490.1 174.9 492.4 171.7 494.9 168.7C497.4 165.8 500.1 162.9 503 160.3C505.8 157.7 508.9 155.2 512.1 153C515.4 150.7 518.8 148.7 522.3 146.8C525.8 145 529.5 143.4 533.2 142C536.9 140.6 540.7 139.5 544.6 138.5C548.5 137.6 552.4 136.9 556.3 136.4C560.3 135.8 564.3 135.5 568.3 135.3C572.3 135.1 576.3 135.1 580.3 135.2C584.3 135.2 588.3 135.4 592.3 135.6C596.3 135.9 600.3 136.2 604.3 136.5C608.3 136.9 612.2 137.3 616.2 137.8C620.1 138.2 624.1 138.7 628 139.3C631.9 139.8 635.8 140.4 639.7 141.1C643.7 141.7 647.6 142.3 651.5 143C655.4 143.7 659.3 144.4 663.1 145.1C667 145.8 670.9 146.5 674.8 147.2C678.7 148 682.6 148.7 686.5 149.4C690.4 150.2 694.3 150.9 698.2 151.6C702.1 152.3 706 153 709.9 153.7C713.8 154.4 717.7 155.1 721.7 155.7C725.6 156.3 731.5 157.2 733.5 157.5C735.5 157.6 741.5 158 745.5 158.1C749.5 158.2 753.5 158.2 757.5 158.2C761.5 158.1 765.5 158 769.5 157.8C773.4 157.6 777.4 157.3 781.4 157C785.4 156.6 789.3 156.3 793.3 155.8C797.3 155.4 801.2 154.9 805.2 154.3C809.2 153.8 813.1 153.2 817.1 152.6C821 152 825 151.3 829 150.6C832.9 149.9 836.9 149.2 840.8 148.5C844.7 147.8 848.7 147 852.6 146.3C856.6 145.5 860.5 144.7 864.4 144C868.4 143.2 872.3 142.4 876.2 141.7C880.1 140.9 884.1 140.2 888 139.4C891.9 138.7 895.8 137.9 899.7 137.3C903.6 136.6 907.6 135.9 911.5 135.3C915.4 134.7 919.3 134.2 923.3 133.8C927.2 133.4 931.1 133.1 935.1 132.9C939 132.8 943 132.8 947 133C951 133.2 955 133.6 959 134.1C963 134.7 967 135.5 971 136.4C974.9 137.4 978.9 138.5 982.7 139.9C986.6 141.2 990.4 142.7 994.1 144.4C997.7 146.1 1001.4 148 1004.8 150.1C1008.2 152.1 1011.5 154.4 1014.7 156.8C1017.8 159.2 1020.8 161.8 1023.7 164.5C1026.5 167.2 1029.2 170.1 1031.8 173.1C1034.4 176 1036.8 179.2 1039 182.4C1041.3 185.6 1043.4 189 1045.3 192.4C1047.3 195.9 1049.1 199.4 1050.8 203C1052.4 206.7 1054 210.4 1055.3 214.1C1056.7 217.9 1057.9 221.7 1059 225.6C1060.1 229.4 1061 233.4 1061.8 237.3C1062.6 241.2 1063.2 245.2 1063.7 249.2C1064.2 253.1 1064.6 257.2 1064.9 261.2C1065.2 265.2 1065.4 269.2 1065.6 273.2C1065.8 277.3 1065.9 281.3 1066 285.3C1066.2 289.3 1066.3 293.4 1066.3 297.4C1066.4 301.4 1066.6 305.4 1066.6 309.4C1066.6 313.4 1066.6 317.4 1066.4 321.3C1066.2 325.2 1065.9 329.2 1065.3 333.1C1064.8 337 1064.1 340.8 1063 344.6C1062 348.5 1059.7 354.1 1059 356Z"/>
<path fill="#efe5e7" d="M665 1135C663.3 1134 657.9 1131 654.6 1128.8C651.2 1126.5 647.9 1124.2 644.8 1121.7C641.6 1119.2 638.6 1116.6 635.7 1113.9C632.7 1111.2 629.9 1108.4 627.1 1105.5C624.3 1102.6 621.7 1099.6 619.1 1096.6C616.5 1093.5 613.9 1090.4 611.5 1087.2C609 1084 606.7 1080.8 604.4 1077.5C602 1074.2 599.8 1070.9 597.6 1067.5C595.4 1064.2 593.3 1060.8 591.2 1057.4C589.1 1053.9 587.1 1050.5 585.1 1047C583.2 1043.5 581.3 1040 579.4 1036.4C577.5 1032.9 575.7 1029.3 573.9 1025.7C572.2 1022.1 570.4 1018.5 568.7 1014.9C567 1011.2 565.4 1007.5 563.8 1003.9C562.2 1000.2 560.6 996.5 559.1 992.7C557.6 989 556.1 985.3 554.6 981.5C553.2 977.7 551.8 974 550.4 970.2C549.1 966.4 547.7 962.6 546.5 958.8C545.2 954.9 544 951.1 542.8 947.2C541.6 943.4 540.5 939.5 539.4 935.7C538.3 931.8 537.3 927.9 536.3 924C535.4 920.1 534.4 916.2 533.6 912.3C532.7 908.3 531.9 904.4 531.1 900.5C530.4 896.5 529.7 892.6 529 888.7C528.4 884.7 527.8 880.7 527.2 876.8C526.7 872.8 526.2 868.8 525.8 864.9C525.4 860.9 525.1 856.9 524.8 852.9C524.5 848.9 524.3 845 524.1 841C524 837 523.9 833 523.9 829C523.8 825 523.9 821 523.9 817C524 813 524.2 809 524.3 805C524.5 801 524.7 797 525 793C525.2 789 525.5 785 525.8 781C526.1 777 526.5 773 526.8 769C527.2 764.9 527.6 760.9 528 756.9C528.4 752.9 528.8 748.9 529.3 744.9C529.7 740.9 530.1 736.9 530.5 732.8C531 728.8 531.4 724.8 531.8 720.8C532.3 716.8 532.7 712.8 533.1 708.8C533.5 704.8 533.9 700.7 534.3 696.7C534.6 692.7 535 688.7 535.3 684.7C535.6 680.7 535.9 676.7 536.2 672.7C536.4 668.6 536.6 664.6 536.8 660.6C537 656.6 537.1 652.6 537.2 648.6C537.3 644.6 537.4 640.6 537.4 636.6C537.4 632.6 537.3 628.6 537.2 624.6C537.1 620.6 537 616.6 536.7 612.6C536.5 608.6 536.2 604.6 535.9 600.7C535.6 596.7 535.1 592.7 534.7 588.7C534.2 584.8 533.6 580.8 533 576.8C532.4 572.9 531.7 568.9 531 565C530.2 561 529.4 557.1 528.5 553.2C527.6 549.3 526.6 545.3 525.6 541.5C524.6 537.6 523.5 533.7 522.3 529.9C521.1 526 519.9 522.2 518.6 518.4C517.3 514.6 515.9 510.8 514.4 507.1C513 503.3 511.4 499.6 509.9 495.9C508.3 492.2 506.7 488.5 505.1 484.8C503.5 481.1 501.8 477.5 500.1 473.8C498.5 470.1 496.8 466.5 495.2 462.8C493.5 459.1 491.9 455.5 490.3 451.8C488.7 448.1 487.1 444.4 485.6 440.7C484.1 436.9 482.7 433.2 481.3 429.4C480 425.7 478.7 421.9 477.5 418C476.3 414.2 475.1 410.4 474.1 406.5C473 402.6 472.1 398.7 471.2 394.8C470.3 390.9 469.5 387 468.7 383.1C468 379.1 467.4 375.2 466.8 371.2C466.3 367.3 465.8 363.3 465.5 359.3C465.1 355.3 464.8 351.3 464.6 347.3C464.4 343.3 464.3 339.3 464.3 335.3C464.2 331.3 464.2 327.3 464.3 323.3C464.3 319.3 464.4 315.3 464.4 311.3C464.5 307.3 464.5 303.3 464.6 299.3C464.7 295.2 464.8 291.2 464.9 287.2C465 283.2 465.2 279.2 465.4 275.1C465.6 271.1 465.8 267.1 466.1 263C466.4 259 466.8 255 467.3 251C467.8 246.9 468.4 242.9 469.1 239C469.8 235 470.7 231.1 471.7 227.2C472.7 223.4 473.8 219.5 475.2 215.8C476.5 212 478 208.3 479.8 204.7C481.5 201.1 483.4 197.5 485.6 194.1C487.7 190.7 490 187.3 492.6 184.2C495.1 181.1 497.8 178.1 500.7 175.4C503.7 172.6 506.8 170.1 510 167.8C513.3 165.5 516.7 163.4 520.2 161.6C523.7 159.7 527.4 158.2 531.1 156.8C534.8 155.5 538.6 154.4 542.5 153.5C546.3 152.6 550.2 152 554.2 151.5C558.1 151 562.2 150.8 566.2 150.6C570.2 150.4 574.3 150.5 578.4 150.6C582.4 150.7 586.5 150.9 590.6 151.2C594.7 151.5 598.7 151.9 602.8 152.3C606.8 152.7 610.9 153.2 614.9 153.7C618.9 154.2 622.9 154.8 626.8 155.3C630.8 155.9 634.8 156.5 638.7 157.1C642.7 157.8 646.6 158.4 650.5 159.1C654.5 159.8 658.4 160.5 662.3 161.2C666.2 161.8 670.2 162.6 674.1 163.3C678 164 681.9 164.7 685.8 165.4C689.8 166.1 693.7 166.8 697.7 167.5C701.6 168.1 705.5 168.8 709.5 169.5C713.5 170.1 717.5 170.8 721.5 171.4C725.5 172 731.5 172.8 733.5 173.1C735.5 173.2 741.4 173.4 745.4 173.5C749.4 173.6 753.4 173.6 757.4 173.6C761.4 173.6 765.4 173.5 769.4 173.3C773.4 173.2 777.4 172.9 781.4 172.7C785.4 172.4 789.4 172.1 793.4 171.7C797.4 171.3 801.4 170.8 805.4 170.3C809.3 169.8 813.3 169.3 817.2 168.7C821.2 168 825.1 167.4 829 166.7C832.9 166 836.8 165.2 840.7 164.4C844.6 163.6 848.5 162.8 852.4 162C856.3 161.2 860.2 160.4 864.1 159.5C868 158.7 871.9 157.9 875.8 157.1C879.7 156.3 883.6 155.5 887.6 154.8C891.5 154 895.5 153.3 899.5 152.7C903.4 152 907.4 151.4 911.4 150.9C915.4 150.4 919.4 150 923.4 149.7C927.4 149.4 931.4 149.2 935.4 149.1C939.4 149.1 943.3 149.1 947.3 149.4C951.2 149.6 955.2 150 959.1 150.6C963 151.2 966.9 151.9 970.7 152.9C974.6 153.9 978.4 155.1 982.1 156.5C985.9 157.9 989.6 159.5 993.2 161.3C996.8 163 1000.3 165 1003.8 167.1C1007.2 169.3 1010.5 171.6 1013.7 174C1016.9 176.5 1020 179.1 1022.9 181.9C1025.7 184.6 1028.5 187.6 1031.1 190.6C1033.6 193.6 1036 196.8 1038.2 200.1C1040.5 203.3 1042.5 206.7 1044.4 210.2C1046.3 213.7 1048 217.3 1049.6 220.9C1051.2 224.6 1052.6 228.3 1053.9 232.1C1055.2 235.9 1056.3 239.7 1057.3 243.6C1058.4 247.5 1059.2 251.4 1060 255.4C1060.8 259.3 1061.4 263.3 1061.9 267.2C1062.4 271.2 1062.8 275.2 1063.2 279.2C1063.5 283.2 1063.8 287.1 1064 291.1C1064.2 295.1 1064.4 299.1 1064.6 303.1C1064.8 307.1 1065 311.1 1065.2 315.1C1065.3 319.1 1065.4 323.1 1065.5 327.1C1065.5 331.1 1065.5 335 1065.3 339C1065.1 343 1064.9 346.9 1064.5 350.9C1064.1 354.8 1063.6 358.8 1063 362.7C1062.5 366.6 1061.7 370.5 1060.9 374.5C1060.1 378.4 1059.2 382.3 1058.2 386.1C1057.3 390 1056.2 393.9 1055.1 397.8C1053.9 401.6 1052.7 405.5 1051.5 409.3C1050.3 413.1 1049 417 1047.8 420.8C1046.5 424.5 1045.2 428.3 1043.9 432.1C1042.6 435.9 1041.3 439.6 1039.9 443.3C1038.6 447.1 1037.2 450.8 1035.9 454.5C1034.5 458.3 1033.1 462 1031.7 465.7C1030.3 469.4 1028.9 473.1 1027.4 476.8C1026 480.5 1024.5 484.2 1023.1 488C1021.6 491.7 1020.1 495.4 1018.6 499.1C1017.2 502.9 1015.7 506.6 1014.2 510.4C1012.7 514.1 1011.2 517.9 1009.8 521.6C1008.4 525.4 1007 529.2 1005.6 533C1004.2 536.7 1002.9 540.5 1001.7 544.4C1000.5 548.2 999.3 552 998.2 555.8C997.1 559.7 996.1 563.5 995.2 567.4C994.3 571.2 993.5 575.1 992.8 579C992.1 582.9 991.6 586.8 991.2 590.7C990.8 594.6 990.5 598.6 990.3 602.5C990.1 606.5 990.1 610.4 990.1 614.4C990.2 618.4 990.3 622.4 990.5 626.4C990.7 630.4 991 634.4 991.3 638.4C991.7 642.4 992.1 646.4 992.5 650.4C992.9 654.4 993.3 658.4 993.8 662.4C994.3 666.4 994.8 670.4 995.2 674.4C995.7 678.4 996.2 682.4 996.6 686.4C997.1 690.4 997.5 694.4 998 698.4C998.4 702.4 998.9 706.3 999.3 710.3C999.7 714.3 1000.1 718.3 1000.5 722.3C1000.9 726.2 1001.3 730.2 1001.7 734.2C1002 738.2 1002.4 742.1 1002.7 746.1C1003 750.1 1003.3 754 1003.6 758C1003.9 762 1004.2 766 1004.4 769.9C1004.6 773.9 1004.8 777.9 1005 781.8C1005.2 785.8 1005.3 789.8 1005.5 793.8C1005.6 797.7 1005.7 801.7 1005.7 805.7C1005.8 809.7 1005.8 813.6 1005.8 817.6C1005.8 821.6 1005.7 825.6 1005.6 829.6C1005.5 833.6 1005.4 837.5 1005.2 841.5C1005 845.5 1004.8 849.5 1004.6 853.5C1004.3 857.5 1004 861.5 1003.6 865.5C1003.3 869.5 1002.9 873.5 1002.4 877.5C1002 881.5 1001.5 885.5 1000.9 889.4C1000.4 893.4 999.8 897.4 999.2 901.4C998.5 905.3 997.8 909.3 997.1 913.2C996.3 917.1 995.5 921.1 994.7 925C993.8 928.9 992.9 932.8 991.9 936.7C991 940.6 990 944.4 988.9 948.3C987.8 952.1 986.7 955.9 985.5 959.7C984.3 963.5 983 967.3 981.7 971.1C980.4 974.8 979 978.6 977.5 982.3C976.1 986 974.6 989.7 973 993.3C971.4 997 969.8 1000.6 968.1 1004.2C966.4 1007.8 964.6 1011.3 962.8 1014.8C960.9 1018.4 959 1021.8 957.1 1025.3C955.1 1028.8 953.1 1032.2 951 1035.6C948.9 1039 946.8 1042.4 944.6 1045.7C942.4 1049.1 940.2 1052.4 937.9 1055.7C935.6 1059 933.3 1062.3 931 1065.6C928.7 1068.9 926.3 1072.1 923.9 1075.4C921.5 1078.6 919.1 1081.9 916.6 1085.1C914.2 1088.4 911.8 1091.6 909.2 1094.8C906.7 1097.9 904.2 1101.1 901.6 1104.1C899 1107.1 896.3 1110.1 893.5 1112.8C890.7 1115.6 887.8 1118.2 884.7 1120.6C881.6 1123 878.5 1125.2 875.1 1127.1C871.7 1129 868.2 1130.7 864.4 1132C860.6 1133.3 854.5 1134.5 852.5 1135L842.5 1125C841.9 1123.4 839.8 1118.8 838.9 1115.7C837.9 1112.5 837.2 1109.3 836.6 1106C836.1 1102.7 835.7 1099.4 835.4 1096.1C835.1 1092.8 835 1089.5 834.8 1086.1C834.7 1082.8 834.6 1079.5 834.6 1076.2C834.6 1072.8 834.6 1069.5 834.7 1066.2C834.8 1062.9 834.9 1059.5 835.1 1056.2C835.2 1052.9 835.4 1049.5 835.7 1046.2C835.9 1042.9 836.1 1039.6 836.4 1036.2C836.7 1032.9 837 1029.6 837.3 1026.3C837.6 1022.9 837.9 1019.6 838.2 1016.3C838.5 1013 838.9 1009.6 839.2 1006.3C839.5 1003 839.9 999.7 840.2 996.3C840.5 993 840.9 989.7 841.2 986.4C841.6 983.1 841.9 979.8 842.3 976.4C842.6 973.1 842.9 969.8 843.3 966.5C843.6 963.2 843.9 959.9 844.3 956.5C844.6 953.2 844.9 949.9 845.2 946.6C845.5 943.3 845.8 940 846.1 936.6C846.4 933.3 846.7 930 846.9 926.7C847.2 923.4 847.4 920.1 847.7 916.7C847.9 913.4 848.1 910.1 848.3 906.8C848.5 903.5 848.7 900.2 848.8 896.8C849 893.5 849.1 890.2 849.2 886.9C849.3 883.6 849.4 880.2 849.5 876.9C849.6 873.6 849.6 870.3 849.6 866.9C849.6 863.6 849.6 860.3 849.6 857C849.5 853.6 849.4 850.3 849.3 847C849.2 843.6 849.1 840.3 848.9 837C848.7 833.6 848.5 830.3 848.3 827C848 823.6 847.7 820.3 847.4 816.9C847.1 813.6 846.7 810.3 846.2 807C845.8 803.6 845.3 800.3 844.8 797C844.2 793.7 843.6 790.5 842.9 787.2C842.2 784 841.4 780.7 840.6 777.5C839.7 774.3 838.8 771.1 837.7 768C836.7 764.9 835.6 761.7 834.4 758.7C833.1 755.6 831.8 752.6 830.4 749.6C828.9 746.6 827.4 743.7 825.7 740.8C824 737.9 822.2 735 820.3 732.3C818.4 729.5 816.3 726.8 814.2 724.3C812 721.7 809.7 719.2 807.3 716.9C804.9 714.5 802.3 712.3 799.7 710.2C797 708.2 794.2 706.3 791.3 704.6C788.4 702.9 785.3 701.3 782.2 700.1C779.1 698.8 775.9 697.7 772.7 697C769.5 696.2 766.3 695.7 763 695.6C759.8 695.4 756.5 695.6 753.3 696C750.1 696.5 746.8 697.3 743.7 698.3C740.6 699.3 737.5 700.6 734.5 702.2C731.6 703.7 728.7 705.5 725.9 707.4C723.2 709.4 720.6 711.6 718.2 713.9C715.7 716.2 713.4 718.7 711.2 721.2C709 723.8 706.9 726.6 705 729.3C703 732.1 701.2 735 699.6 737.9C697.9 740.9 696.4 743.8 695 746.9C693.6 749.9 692.3 752.9 691.1 756C689.9 759.1 688.9 762.2 687.9 765.4C687 768.5 686.1 771.7 685.3 774.9C684.6 778.2 683.9 781.4 683.3 784.7C682.7 787.9 682.2 791.2 681.7 794.5C681.3 797.8 680.9 801.1 680.6 804.4C680.3 807.7 680 811.1 679.8 814.4C679.6 817.7 679.4 821.1 679.3 824.4C679.1 827.8 679 831.1 679 834.5C678.9 837.8 678.9 841.1 678.8 844.5C678.8 847.8 678.8 851.1 678.9 854.5C678.9 857.8 679 861.1 679.1 864.5C679.2 867.8 679.3 871.1 679.4 874.4C679.6 877.8 679.7 881.1 679.9 884.4C680.1 887.7 680.3 891.1 680.5 894.4C680.7 897.7 680.9 901 681.1 904.3C681.4 907.7 681.6 911 681.9 914.3C682.2 917.6 682.4 920.9 682.7 924.3C683 927.6 683.3 930.9 683.6 934.2C683.9 937.5 684.2 940.8 684.5 944.2C684.8 947.5 685.1 950.8 685.5 954.1C685.8 957.4 686.1 960.7 686.4 964.1C686.7 967.4 687.1 970.7 687.4 974C687.7 977.3 688 980.7 688.3 984C688.6 987.3 688.9 990.6 689.2 993.9C689.5 997.2 689.8 1000.6 690.1 1003.9C690.4 1007.2 690.7 1010.5 690.9 1013.9C691.2 1017.2 691.4 1020.5 691.7 1023.8C691.9 1027.1 692.1 1030.5 692.3 1033.8C692.5 1037.1 692.7 1040.5 692.9 1043.8C693.1 1047.1 693.2 1050.4 693.4 1053.8C693.6 1057.1 693.7 1060.4 693.8 1063.8C694 1067.1 694.1 1070.4 694.2 1073.8C694.3 1077.1 694.5 1080.4 694.6 1083.8C694.7 1087.1 694.8 1090.5 694.8 1093.8C694.9 1097.1 694.9 1100.5 694.8 1103.8C694.7 1107.1 694.5 1110.4 694 1113.6C693.4 1116.8 692.8 1120.1 691.7 1123.2C690.6 1126.4 688.2 1131 687.5 1132.5Z"/>
<path fill="#f7b86f" d="M521 372C520.1 370.2 517 364.8 515.7 361.1C514.3 357.4 513.4 353.6 512.8 349.8C512.2 345.9 512 342 511.9 338C511.8 334.1 512 330.1 512.3 326C512.6 322 513 317.9 513.5 313.8C514 309.7 514.6 305.6 515.3 301.5C516.1 297.5 517 293.4 518 289.5C519.1 285.5 520.3 281.6 521.7 277.8C523.1 274 524.7 270.3 526.5 266.8C528.3 263.3 530.3 259.9 532.6 256.7C534.9 253.5 537.4 250.4 540.1 247.6C542.9 244.8 546 242.2 549.3 239.8C552.6 237.5 556.1 235.4 559.8 233.6C563.4 231.8 567.3 230.3 571.1 229.1C575 227.9 578.9 227.1 582.9 226.5C586.8 226 590.8 225.8 594.8 225.7C598.8 225.6 602.8 225.8 606.9 226.1C610.9 226.3 615 226.8 619 227.2C623 227.6 627.1 228 631.1 228.5C635.1 228.9 639.2 229.4 643.2 229.8C647.2 230.2 651.2 230.6 655.3 231.1C659.3 231.5 663.3 231.9 667.3 232.2C671.3 232.6 675.3 233 679.3 233.4C683.3 233.7 687.3 234.1 691.3 234.4C695.3 234.7 699.3 235 703.4 235.3C707.4 235.6 711.4 235.8 715.4 236C719.4 236.3 723.4 236.5 727.4 236.7C731.4 236.8 735.4 237 739.4 237.1C743.4 237.2 747.4 237.3 751.4 237.4C755.5 237.4 759.5 237.5 763.5 237.5C767.5 237.4 771.6 237.4 775.6 237.3C779.6 237.2 783.7 237.1 787.7 236.9C791.8 236.8 795.8 236.6 799.9 236.3C803.9 236.1 808 235.8 812 235.5C816.1 235.2 820.1 234.9 824.2 234.6C828.2 234.3 832.2 233.9 836.2 233.5C840.3 233.2 844.3 232.8 848.3 232.4C852.3 232 856.2 231.6 860.2 231.2C864.2 230.8 868.1 230.4 872.1 230C876 229.7 880 229.3 883.9 229.1C887.9 228.8 891.8 228.6 895.8 228.5C899.8 228.5 903.8 228.5 907.8 228.7C911.8 228.9 915.9 229.2 920 229.7C924.1 230.2 928.2 230.8 932.2 231.7C936.3 232.5 940.4 233.5 944.3 234.7C948.2 235.9 952.1 237.3 955.9 238.9C959.6 240.5 963.3 242.3 966.7 244.3C970.2 246.3 973.5 248.5 976.6 250.9C979.7 253.4 982.6 256.1 985.2 258.9C987.9 261.8 990.3 264.9 992.5 268.2C994.7 271.4 996.7 274.9 998.5 278.4C1000.3 282 1001.9 285.7 1003.3 289.5C1004.8 293.3 1006 297.2 1007 301.2C1008.1 305.1 1009 309.2 1009.7 313.2C1010.4 317.3 1010.9 321.4 1011.3 325.5C1011.6 329.5 1011.8 333.6 1011.6 337.7C1011.5 341.7 1011.2 345.7 1010.5 349.6C1009.9 353.5 1009 357.4 1007.7 361.1C1006.5 364.9 1003.8 370.2 1003 372Z"/>
<path fill="#fbd4a3" d="M650 1096C648.6 1094.5 644.4 1090.1 641.7 1087C639.1 1084 636.5 1080.9 634.1 1077.7C631.6 1074.6 629.2 1071.4 626.9 1068.1C624.6 1064.9 622.4 1061.6 620.2 1058.2C618.1 1054.9 616 1051.5 614 1048.1C612 1044.7 610.1 1041.2 608.2 1037.7C606.4 1034.2 604.6 1030.7 602.8 1027.1C601.1 1023.6 599.4 1020 597.7 1016.3C596.1 1012.7 594.5 1009.1 593 1005.4C591.4 1001.7 589.9 998 588.5 994.3C587 990.6 585.6 986.8 584.2 983.1C582.8 979.3 581.5 975.5 580.1 971.8C578.8 968 577.5 964.2 576.2 960.3C574.9 956.5 573.7 952.7 572.5 948.9C571.2 945 570 941.2 568.9 937.4C567.7 933.5 566.5 929.6 565.5 925.8C564.4 921.9 563.3 918 562.3 914.1C561.3 910.3 560.3 906.4 559.4 902.5C558.5 898.6 557.6 894.6 556.8 890.7C556 886.8 555.2 882.9 554.5 879C553.8 875 553.1 871.1 552.6 867.2C552 863.2 551.5 859.3 551 855.3C550.6 851.4 550.2 847.4 549.9 843.5C549.6 839.5 549.4 835.6 549.2 831.6C549.1 827.6 549 823.7 549 819.7C549 815.7 549.1 811.8 549.3 807.8C549.4 803.8 549.7 799.8 549.9 795.9C550.2 791.9 550.5 787.9 550.9 783.9C551.3 779.9 551.7 775.9 552.2 772C552.6 768 553.1 764 553.6 760C554.1 756 554.7 752 555.3 748.1C555.8 744.1 556.4 740.1 557 736.1C557.5 732.1 558.1 728.1 558.7 724.2C559.3 720.2 559.9 716.2 560.4 712.2C561 708.2 561.5 704.3 562 700.3C562.5 696.3 563 692.4 563.5 688.4C563.9 684.4 564.4 680.5 564.8 676.5C565.1 672.5 565.5 668.6 565.8 664.6C566 660.6 566.3 656.7 566.4 652.7C566.6 648.8 566.7 644.8 566.8 640.8C566.8 636.9 566.8 632.9 566.7 628.9C566.6 624.9 566.4 620.9 566.2 617C565.9 613 565.6 609 565.2 605C564.8 601 564.3 597 563.7 593C563.2 589 562.6 585 561.9 581.1C561.3 577.1 560.5 573.1 559.8 569.2C559 565.2 558.2 561.3 557.3 557.4C556.4 553.5 555.5 549.6 554.6 545.7C553.6 541.8 552.6 538 551.6 534.1C550.6 530.3 549.5 526.5 548.4 522.7C547.3 518.8 546.2 515 545.1 511.2C543.9 507.4 542.8 503.7 541.6 499.9C540.4 496.1 539.1 492.3 537.9 488.5C536.6 484.7 535.4 480.9 534.1 477.1C532.8 473.3 531.5 469.5 530.2 465.7C528.9 461.8 527.6 458 526.3 454.2C525 450.3 523.7 446.5 522.5 442.6C521.3 438.8 520.2 434.9 519.1 431.1C518 427.2 517 423.3 516.1 419.4C515.2 415.5 514.4 411.7 513.8 407.8C513.1 403.9 512.6 400 512.1 396C511.7 392.1 511.5 388.2 511.3 384.3C511.1 380.4 511 376.4 511.1 372.5C511.1 368.5 511.2 364.5 511.4 360.5C511.6 356.6 511.9 352.6 512.2 348.5C512.6 344.5 513 340.5 513.4 336.4C513.9 332.4 514.4 328.3 515 324.3C515.7 320.2 516.4 316.2 517.3 312.2C518.2 308.3 519.2 304.4 520.4 300.6C521.7 296.8 523.1 293 524.8 289.5C526.5 285.9 528.4 282.5 530.6 279.2C532.8 275.9 535.3 272.8 538 269.9C540.7 267 543.7 264.3 546.8 261.9C549.9 259.4 553.3 257.1 556.7 255.1C560.2 253.2 563.8 251.4 567.5 250C571.2 248.5 575 247.4 578.8 246.5C582.6 245.7 586.5 245.2 590.4 244.8C594.3 244.5 598.3 244.5 602.2 244.6C606.2 244.6 610.2 244.9 614.2 245.3C618.2 245.6 622.3 246.2 626.3 246.7C630.3 247.2 634.3 247.7 638.4 248.3C642.4 248.8 646.4 249.3 650.4 249.8C654.4 250.4 658.4 250.8 662.4 251.3C666.4 251.8 670.4 252.2 674.4 252.7C678.4 253.1 682.4 253.5 686.4 253.9C690.4 254.3 694.3 254.6 698.3 254.9C702.3 255.2 706.3 255.5 710.2 255.8C714.2 256 718.2 256.3 722.1 256.5C726.1 256.6 730.1 256.8 734.1 256.9C738 257 742 257.1 746 257.1C750 257.1 753.9 257.1 757.9 257.1C761.9 257 765.9 256.9 769.9 256.8C773.8 256.6 777.8 256.4 781.8 256.2C785.8 256 789.8 255.8 793.8 255.5C797.8 255.2 801.8 255 805.8 254.7C809.8 254.4 813.8 254.1 817.8 253.7C821.8 253.4 825.8 253.1 829.8 252.8C833.8 252.5 837.8 252.2 841.8 251.9C845.8 251.6 849.8 251.2 853.8 251C857.8 250.7 861.8 250.4 865.8 250.2C869.8 250 873.8 249.8 877.8 249.6C881.8 249.4 885.8 249.3 889.8 249.2C893.8 249.1 897.8 249 901.7 249.1C905.7 249.1 909.7 249.2 913.6 249.5C917.6 249.8 921.5 250.2 925.4 250.7C929.3 251.3 933.1 252.1 936.9 253.1C940.8 254.1 944.5 255.3 948.2 256.7C951.9 258.2 955.6 260 959.2 261.9C962.7 263.9 966.2 266.1 969.5 268.5C972.8 270.9 976 273.5 979 276.2C982 279 984.8 282 987.4 285.1C990 288.1 992.4 291.4 994.5 294.7C996.6 298.1 998.4 301.5 1000.1 305.1C1001.8 308.6 1003.2 312.3 1004.4 316C1005.7 319.8 1006.8 323.6 1007.7 327.4C1008.6 331.3 1009.4 335.2 1010.1 339.2C1010.8 343.1 1011.3 347.1 1011.8 351.1C1012.3 355.1 1012.7 359.1 1013.1 363.1C1013.4 367.2 1013.6 371.2 1013.8 375.2C1013.9 379.3 1014 383.3 1013.9 387.3C1013.8 391.3 1013.7 395.3 1013.4 399.3C1013.1 403.3 1012.6 407.3 1012.1 411.2C1011.5 415.2 1010.8 419.1 1010 422.9C1009.2 426.8 1008.2 430.7 1007.2 434.5C1006.1 438.3 1004.9 442.1 1003.6 445.9C1002.4 449.6 1001 453.4 999.6 457.1C998.2 460.8 996.7 464.5 995.2 468.3C993.7 472 992.1 475.7 990.6 479.4C989 483.1 987.4 486.8 985.9 490.5C984.3 494.2 982.7 497.9 981.2 501.6C979.7 505.4 978.2 509.1 976.8 512.8C975.3 516.6 973.9 520.3 972.7 524.1C971.4 527.9 970.2 531.7 969.1 535.5C968 539.3 967 543.1 966.1 547C965.2 550.9 964.5 554.8 963.9 558.7C963.3 562.6 962.9 566.5 962.5 570.5C962.1 574.5 961.9 578.4 961.7 582.4C961.6 586.4 961.5 590.4 961.5 594.5C961.5 598.5 961.6 602.5 961.8 606.5C961.9 610.5 962.1 614.6 962.4 618.6C962.6 622.6 962.9 626.6 963.2 630.7C963.5 634.7 963.9 638.7 964.2 642.7C964.6 646.7 964.9 650.6 965.3 654.6C965.7 658.6 966.1 662.6 966.5 666.5C966.9 670.5 967.3 674.5 967.8 678.4C968.2 682.4 968.6 686.3 969.1 690.3C969.5 694.2 970 698.2 970.4 702.2C970.9 706.1 971.4 710.1 971.8 714C972.3 718 972.8 722 973.2 725.9C973.7 729.9 974.1 733.9 974.6 737.9C975 741.8 975.5 745.8 975.9 749.8C976.3 753.8 976.7 757.7 977.1 761.7C977.5 765.7 977.9 769.7 978.2 773.7C978.6 777.6 978.9 781.6 979.2 785.6C979.4 789.6 979.7 793.6 979.9 797.6C980.1 801.6 980.3 805.6 980.4 809.6C980.6 813.5 980.7 817.5 980.7 821.5C980.8 825.5 980.8 829.5 980.7 833.5C980.7 837.5 980.6 841.5 980.4 845.5C980.3 849.5 980.1 853.5 979.8 857.5C979.5 861.5 979.2 865.5 978.8 869.5C978.4 873.4 978 877.4 977.5 881.4C977 885.4 976.5 889.3 975.9 893.3C975.3 897.3 974.6 901.2 973.9 905.2C973.1 909.1 972.4 913 971.5 916.9C970.7 920.9 969.8 924.8 968.9 928.7C967.9 932.5 966.9 936.4 965.8 940.3C964.8 944.1 963.6 948 962.4 951.8C961.3 955.6 960 959.4 958.7 963.2C957.4 966.9 956.1 970.7 954.6 974.4C953.2 978.2 951.7 981.9 950.2 985.5C948.7 989.2 947.1 992.9 945.4 996.5C943.7 1000.1 942 1003.7 940.3 1007.3C938.5 1010.9 936.6 1014.4 934.7 1017.9C932.8 1021.4 930.9 1024.9 928.9 1028.3C926.9 1031.7 924.8 1035.1 922.6 1038.5C920.5 1041.9 918.3 1045.2 916 1048.5C913.8 1051.7 911.5 1055 909.1 1058.2C906.7 1061.4 904.2 1064.6 901.7 1067.7C899.2 1070.8 896.7 1073.9 894 1076.9C891.4 1079.9 888.7 1082.9 886 1085.8C883.2 1088.8 878.9 1093.1 877.5 1094.5L862.5 1067C862.6 1065.3 862.7 1060.4 862.9 1057.1C863 1053.8 863.2 1050.5 863.4 1047.1C863.6 1043.8 863.8 1040.5 864 1037.2C864.2 1033.9 864.5 1030.6 864.7 1027.3C865 1024 865.3 1020.6 865.5 1017.3C865.8 1014 866.1 1010.7 866.4 1007.4C866.7 1004 867 1000.7 867.3 997.4C867.6 994.1 868 990.8 868.3 987.5C868.6 984.1 868.9 980.8 869.2 977.5C869.6 974.2 869.9 970.8 870.2 967.5C870.5 964.2 870.8 960.9 871.1 957.6C871.4 954.2 871.7 950.9 872 947.6C872.3 944.3 872.6 940.9 872.8 937.6C873.1 934.3 873.4 931 873.6 927.6C873.8 924.3 874 921 874.2 917.7C874.4 914.3 874.6 911 874.8 907.7C875 904.4 875.1 901 875.2 897.7C875.3 894.4 875.4 891.1 875.5 887.7C875.5 884.4 875.6 881.1 875.6 877.8C875.6 874.4 875.6 871.1 875.5 867.8C875.5 864.5 875.4 861.1 875.2 857.8C875.1 854.5 875 851.2 874.8 847.9C874.5 844.6 874.3 841.2 874 837.9C873.7 834.6 873.4 831.3 873 828C872.6 824.8 872.2 821.5 871.7 818.2C871.2 814.9 870.7 811.7 870.1 808.4C869.5 805.1 868.8 801.9 868.1 798.7C867.4 795.4 866.7 792.2 865.8 789C865 785.8 864.1 782.6 863.1 779.4C862.2 776.3 861.1 773.1 860 769.9C858.9 766.8 857.8 763.7 856.5 760.6C855.3 757.5 854 754.4 852.6 751.3C851.2 748.2 849.7 745.2 848.2 742.2C846.6 739.2 845 736.3 843.3 733.4C841.6 730.5 839.8 727.6 838 724.9C836.1 722.1 834.2 719.3 832.2 716.7C830.1 714 828.1 711.4 825.9 708.9C823.7 706.4 821.4 703.9 819.1 701.6C816.8 699.2 814.4 696.9 811.9 694.8C809.3 692.6 806.8 690.5 804.1 688.5C801.4 686.6 798.7 684.7 795.8 683C793 681.2 790.1 679.6 787.1 678.1C784.1 676.7 781 675.4 777.9 674.3C774.7 673.3 771.5 672.4 768.3 671.9C765 671.3 761.7 671.1 758.4 671.1C755.1 671.1 751.7 671.5 748.4 672.1C745.1 672.7 741.8 673.5 738.6 674.6C735.5 675.6 732.4 676.8 729.4 678.2C726.5 679.6 723.6 681.2 720.8 682.9C718 684.6 715.3 686.5 712.7 688.5C710.1 690.6 707.6 692.8 705.2 695C702.8 697.3 700.5 699.7 698.3 702.3C696.1 704.8 694 707.4 692 710.1C689.9 712.8 688 715.6 686.2 718.4C684.4 721.3 682.7 724.2 681.1 727.2C679.5 730.2 677.9 733.2 676.5 736.2C675.1 739.3 673.8 742.4 672.6 745.5C671.4 748.6 670.2 751.7 669.2 754.9C668.1 758 667.2 761.2 666.3 764.4C665.4 767.6 664.6 770.8 663.8 774.1C663.1 777.3 662.4 780.5 661.7 783.8C661.1 787.1 660.5 790.3 660 793.6C659.5 796.9 659 800.2 658.6 803.5C658.1 806.8 657.7 810.1 657.4 813.4C657 816.6 656.7 819.9 656.4 823.2C656.1 826.5 655.8 829.8 655.6 833.1C655.3 836.5 655.1 839.8 655 843.1C654.8 846.4 654.7 849.7 654.6 853C654.5 856.3 654.4 859.6 654.3 862.9C654.3 866.2 654.3 869.6 654.3 872.9C654.3 876.2 654.3 879.5 654.3 882.8C654.4 886.1 654.5 889.5 654.5 892.8C654.6 896.1 654.7 899.4 654.9 902.8C655 906.1 655.2 909.4 655.3 912.7C655.5 916.1 655.7 919.4 655.9 922.7C656.1 926 656.3 929.4 656.5 932.7C656.7 936 657 939.3 657.2 942.7C657.5 946 657.7 949.3 658 952.7C658.3 956 658.6 959.3 658.9 962.6C659.1 966 659.4 969.3 659.7 972.6C660 975.9 660.3 979.3 660.7 982.6C661 985.9 661.3 989.3 661.6 992.6C661.9 995.9 662.2 999.2 662.5 1002.6C662.8 1005.9 663.2 1009.2 663.5 1012.5C663.8 1015.8 664.1 1019.2 664.4 1022.5C664.7 1025.8 665 1029.1 665.3 1032.4C665.6 1035.8 665.9 1039.1 666.2 1042.4C666.4 1045.7 666.7 1049 667 1052.3C667.2 1055.7 667.5 1059 667.7 1062.3C668 1065.6 668.2 1068.9 668.4 1072.2C668.6 1075.5 668.8 1078.8 669 1082.1C669.2 1085.4 669.4 1090.4 669.5 1092Z"/>
<path fill="#e35554" d="M655 1192C656.6 1191.7 662.1 1191.2 664.8 1190.1C667.6 1188.9 669.8 1187 671.5 1184.9C673.3 1182.8 674.5 1180.1 675.5 1177.4C676.4 1174.7 676.8 1171.7 677.1 1168.7C677.3 1165.7 677.1 1162.6 676.7 1159.6C676.4 1156.7 675.7 1153.7 674.9 1150.9C674 1148 673 1145.2 671.9 1142.4C670.8 1139.6 669.5 1136.9 668.2 1134.1C666.9 1131.4 665.5 1128.7 664.2 1126C662.9 1123.3 661.5 1120.6 660.2 1117.9C658.8 1115.2 657.5 1112.6 656.1 1109.9C654.8 1107.2 653.4 1104.5 652.1 1101.8C650.8 1099.1 649.5 1096.5 648.2 1093.8C646.9 1091.1 645.7 1088.4 644.4 1085.7C643.2 1082.9 642 1080.2 640.8 1077.5C639.7 1074.7 638.5 1072 637.5 1069.2C636.4 1066.4 635.4 1063.6 634.4 1060.8C633.4 1058 632.4 1055.1 631.5 1052.3C630.6 1049.4 629.7 1046.6 628.8 1043.7C628 1040.8 627.1 1037.9 626.3 1035C625.5 1032.2 624.7 1029.3 624 1026.3C623.2 1023.4 622.4 1020.5 621.7 1017.6C620.9 1014.7 620.2 1011.8 619.5 1008.9C618.7 1006 618 1003.1 617.3 1000.1C616.6 997.2 615.8 994.3 615.1 991.4C614.4 988.5 613.6 985.7 612.9 982.8C612.2 979.9 611.4 977 610.7 974.1C610 971.2 609.3 968.3 608.5 965.5C607.8 962.6 607.1 959.7 606.4 956.8C605.7 953.9 605 951 604.3 948.1C603.6 945.2 602.9 942.3 602.2 939.4C601.6 936.5 600.9 933.6 600.3 930.7C599.7 927.8 599 924.9 598.4 921.9C597.8 919 597.3 916 596.7 913.1C596.1 910.1 595.6 907.2 595.1 904.2C594.6 901.3 594.1 898.3 593.6 895.3C593.1 892.4 592.7 889.4 592.2 886.4C591.8 883.4 591.4 880.4 591 877.5C590.6 874.5 590.3 871.5 590 868.5C589.6 865.5 589.3 862.5 589.1 859.5C588.8 856.5 588.6 853.5 588.4 850.5C588.2 847.5 588 844.5 587.8 841.5C587.7 838.5 587.6 835.5 587.5 832.5C587.4 829.5 587.4 826.5 587.4 823.5C587.4 820.5 587.4 817.6 587.5 814.6C587.5 811.6 587.6 808.6 587.8 805.6C587.9 802.6 588.1 799.6 588.3 796.7C588.5 793.7 588.8 790.7 589.1 787.8C589.4 784.8 589.8 781.8 590.1 778.9C590.5 775.9 591 773 591.4 770C591.9 767.1 592.4 764.1 592.9 761.2C593.4 758.3 594 755.3 594.6 752.4C595.2 749.5 595.9 746.6 596.6 743.7C597.2 740.8 597.9 737.9 598.7 735C599.4 732.1 600.2 729.2 601 726.3C601.8 723.4 602.6 720.6 603.5 717.7C604.4 714.8 605.3 712 606.2 709.1C607.1 706.2 608 703.4 609 700.6C610 697.7 611 694.9 612 692.1C613 689.2 614 686.4 615.1 683.6C616.2 680.8 617.2 678 618.4 675.2C619.5 672.4 620.6 669.7 621.7 666.9C622.9 664.1 624 661.4 625.2 658.6C626.4 655.8 627.6 653.1 628.8 650.4C630 647.6 631.3 644.9 632.4 642.1C633.6 639.4 634.8 636.7 636 633.9C637.1 631.2 638.2 628.4 639.2 625.6C640.2 622.8 641.2 620 642 617.1C642.8 614.2 643.6 611.3 644.2 608.4C644.8 605.4 645.3 602.4 645.6 599.4C646 596.4 646.3 593.4 646.4 590.4C646.6 587.4 646.6 584.3 646.5 581.3C646.5 578.3 646.3 575.3 646 572.3C645.7 569.4 645.3 566.4 644.9 563.5C644.4 560.5 643.9 557.6 643.3 554.7C642.7 551.8 642 548.9 641.3 546C640.6 543.1 639.8 540.2 639 537.3C638.3 534.5 637.4 531.6 636.6 528.7C635.7 525.9 634.9 523 634 520.1C633.2 517.2 632.3 514.4 631.5 511.5C630.6 508.6 629.8 505.7 628.9 502.8C628.1 499.9 627.3 497 626.5 494.1C625.6 491.2 624.8 488.4 624 485.5C623.1 482.6 622.3 479.7 621.4 476.8C620.6 473.9 619.7 471.1 618.9 468.2C618 465.4 617.1 462.5 616.2 459.7C615.3 456.8 614.4 454 613.4 451.2C612.5 448.4 611.5 445.6 610.5 442.8C609.5 440 608.5 437.3 607.5 434.5C606.5 431.7 605.5 429 604.6 426.1C603.7 423.2 602.9 420.3 602.4 417.3C601.8 414.2 601.3 411 601.2 407.9C601.1 404.8 601.2 401.6 601.7 398.6C602.3 395.7 603.2 392.8 604.5 390.3C605.7 387.7 607.5 385.4 609.4 383.3C611.4 381.3 613.7 379.4 616.1 377.9C618.6 376.3 621.3 375 624.1 373.9C626.9 372.9 629.9 372.1 632.8 371.6C635.8 371.1 638.8 370.9 641.8 370.9C644.8 371 647.7 371.4 650.7 371.9C653.6 372.4 656.5 373.2 659.4 373.9C662.3 374.7 665.2 375.7 668.1 376.6C671 377.5 673.9 378.5 676.8 379.3C679.7 380.1 682.6 380.9 685.5 381.5C688.4 382.1 691.4 382.5 694.3 382.9C697.3 383.3 700.2 383.5 703.2 383.7C706.2 383.9 709.2 384 712.2 384.2C715.2 384.3 718.1 384.3 721.1 384.4C724.1 384.5 727.2 384.6 730.2 384.7C733.2 384.8 736.2 384.9 739.2 385C742.2 385.2 745.2 385.3 748.2 385.4C751.2 385.5 754.2 385.6 757.2 385.6C760.2 385.7 763.3 385.8 766.2 385.8C769.2 385.8 772.2 385.8 775.2 385.8C778.2 385.7 781.2 385.7 784.1 385.6C787.1 385.5 790.1 385.3 793 385.2C796 385 799 384.8 801.9 384.6C804.9 384.4 807.9 384.1 810.8 383.9C813.8 383.6 816.7 383.3 819.7 382.9C822.7 382.6 825.6 382.2 828.6 381.8C831.6 381.4 834.5 380.9 837.5 380.4C840.5 380 843.5 379.5 846.5 378.9C849.4 378.4 852.4 377.8 855.4 377.2C858.4 376.6 861.4 375.9 864.4 375.3C867.4 374.7 870.4 374 873.4 373.6C876.4 373.1 879.4 372.6 882.3 372.5C885.2 372.3 888.1 372.2 890.9 372.4C893.8 372.7 896.6 373.1 899.3 374C902 374.9 904.7 376 907.3 377.6C909.8 379.1 912.3 381.1 914.5 383.3C916.6 385.5 918.6 388 920 390.7C921.5 393.3 922.5 396.2 923.2 399.1C923.9 402 924.2 405 924.2 408C924.2 411 923.8 414 923.3 416.9C922.8 419.8 922 422.7 921.2 425.5C920.3 428.4 919.2 431.2 918.1 434C917.1 436.8 915.9 439.6 914.8 442.4C913.7 445.2 912.6 448 911.6 450.8C910.6 453.7 909.6 456.5 908.6 459.3C907.6 462.1 906.6 465 905.6 467.8C904.7 470.6 903.7 473.5 902.8 476.3C901.8 479.1 900.9 482 900 484.8C899 487.6 898.1 490.5 897.2 493.3C896.3 496.2 895.4 499 894.5 501.9C893.7 504.7 892.8 507.6 892 510.4C891.2 513.3 890.4 516.2 889.6 519.1C888.9 522 888.1 524.9 887.5 527.8C886.8 530.7 886.1 533.6 885.5 536.6C884.9 539.5 884.3 542.5 883.8 545.5C883.2 548.4 882.8 551.4 882.4 554.4C881.9 557.4 881.6 560.4 881.3 563.4C881 566.4 880.8 569.4 880.6 572.4C880.5 575.4 880.4 578.3 880.4 581.3C880.4 584.3 880.5 587.3 880.7 590.3C880.9 593.2 881.2 596.2 881.5 599.1C881.9 602.1 882.4 605 883 607.9C883.5 610.8 884.2 613.7 885 616.6C885.7 619.4 886.5 622.3 887.4 625.2C888.3 628 889.2 630.9 890.2 633.7C891.2 636.6 892.2 639.4 893.2 642.2C894.3 645 895.3 647.9 896.4 650.7C897.4 653.5 898.5 656.3 899.6 659.2C900.6 662 901.6 664.8 902.6 667.7C903.7 670.5 904.6 673.4 905.6 676.2C906.5 679.1 907.5 681.9 908.3 684.8C909.2 687.6 910.1 690.5 910.9 693.4C911.7 696.2 912.5 699.1 913.3 702C914.1 704.9 914.8 707.8 915.5 710.7C916.1 713.6 916.8 716.5 917.4 719.4C918 722.3 918.6 725.2 919.1 728.2C919.6 731.1 920.1 734 920.6 737C921 739.9 921.4 742.9 921.8 745.9C922.1 748.8 922.5 751.8 922.8 754.8C923.2 757.8 923.5 760.7 923.9 763.7C924.2 766.7 924.6 769.7 925.1 772.6C925.5 775.6 926 778.6 926.6 781.6C927.1 784.5 927.6 787.5 928.2 790.5C928.7 793.4 929.3 796.4 929.8 799.4C930.3 802.3 930.7 805.3 931.2 808.3C931.6 811.2 932 814.2 932.3 817.2C932.7 820.2 933 823.1 933.2 826.1C933.5 829.1 933.7 832.1 933.9 835.1C934.1 838 934.2 841 934.3 844C934.5 847 934.5 850 934.6 852.9C934.6 855.9 934.6 858.9 934.5 861.9C934.5 864.9 934.4 867.9 934.3 870.8C934.2 873.8 934.1 876.8 933.9 879.8C933.7 882.7 933.5 885.7 933.3 888.7C933 891.7 932.8 894.7 932.5 897.6C932.2 900.6 931.9 903.6 931.5 906.5C931.1 909.5 930.8 912.5 930.4 915.4C929.9 918.4 929.5 921.4 929.1 924.3C928.6 927.3 928.1 930.2 927.6 933.2C927.1 936.2 926.6 939.1 926 942.1C925.4 945 924.9 947.9 924.3 950.9C923.7 953.8 923 956.8 922.4 959.7C921.8 962.6 921.1 965.6 920.4 968.5C919.7 971.4 919 974.3 918.3 977.2C917.5 980.1 916.8 983 916 985.9C915.2 988.8 914.4 991.7 913.6 994.6C912.8 997.5 911.9 1000.4 911 1003.2C910.1 1006.1 909.2 1008.9 908.3 1011.8C907.4 1014.6 906.4 1017.5 905.5 1020.3C904.5 1023.1 903.5 1026 902.4 1028.8C901.4 1031.6 900.4 1034.4 899.3 1037.2C898.2 1040 897.1 1042.7 895.9 1045.5C894.8 1048.3 893.6 1051 892.5 1053.8C891.3 1056.5 890.1 1059.2 888.8 1062C887.6 1064.7 886.3 1067.4 885 1070.1C883.7 1072.7 882.4 1075.4 881 1078.1C879.6 1080.7 878.3 1083.4 876.8 1086C875.4 1088.7 874 1091.3 872.6 1093.9C871.1 1096.5 869.7 1099.1 868.3 1101.8C866.8 1104.4 865.4 1107 864 1109.7C862.6 1112.3 861.2 1114.9 859.9 1117.6C858.5 1120.3 857.2 1123 856 1125.7C854.7 1128.5 853.5 1131.2 852.4 1134C851.2 1136.8 850.1 1139.6 849.1 1142.5C848.2 1145.4 847.2 1148.3 846.5 1151.2C845.9 1154.1 845.3 1157 845.2 1159.9C845 1162.9 845.1 1165.8 845.7 1168.6C846.2 1171.5 847.2 1174.4 848.5 1177.1C849.9 1179.7 851.7 1182.4 853.8 1184.5C855.9 1186.6 858.4 1188.6 861.1 1189.9C863.8 1191.1 868.5 1191.6 870 1192L800 1192C801.6 1191.8 806.8 1191.7 809.4 1190.8C812.1 1189.8 814.1 1188.2 815.8 1186.4C817.5 1184.6 818.8 1182.3 819.8 1180C820.8 1177.6 821.4 1174.9 822 1172.4C822.6 1169.8 822.8 1167 823.3 1164.4C823.8 1161.8 824.1 1159.2 824.9 1156.6C825.6 1154.1 826.6 1151.7 827.6 1149.3C828.7 1146.8 829.9 1144.5 831.1 1142.1C832.3 1139.8 833.6 1137.4 834.8 1135.1C836 1132.7 837.2 1130.3 838.4 1127.9C839.6 1125.5 840.7 1123.2 841.9 1120.8C843 1118.4 844.2 1116 845.3 1113.5C846.4 1111.1 847.6 1108.7 848.7 1106.3C849.8 1103.9 850.9 1101.5 851.9 1099C853 1096.6 854.1 1094.2 855.1 1091.7C856.2 1089.3 857.2 1086.8 858.3 1084.4C859.3 1081.9 860.3 1079.4 861.3 1077C862.3 1074.5 863.3 1072 864.3 1069.6C865.3 1067.1 866.3 1064.6 867.2 1062.1C868.2 1059.7 869.1 1057.2 870.1 1054.7C871 1052.2 871.9 1049.7 872.9 1047.2C873.8 1044.7 874.7 1042.2 875.6 1039.7C876.5 1037.2 877.3 1034.7 878.2 1032.1C879.1 1029.6 879.9 1027.1 880.8 1024.6C881.6 1022.1 882.5 1019.5 883.3 1017C884.1 1014.5 884.9 1011.9 885.7 1009.4C886.5 1006.9 887.2 1004.3 887.9 1001.8C888.7 999.2 889.4 996.7 890.1 994.1C890.8 991.5 891.5 989 892.1 986.4C892.7 983.8 893.3 981.3 893.9 978.7C894.5 976.1 895.1 973.5 895.6 970.9C896.1 968.3 896.6 965.7 897.1 963.1C897.5 960.5 897.9 957.9 898.3 955.2C898.7 952.6 899 950 899.4 947.3C899.7 944.7 900 942 900.3 939.4C900.6 936.7 900.8 934.1 901 931.4C901.3 928.8 901.5 926.1 901.7 923.5C901.9 920.8 902.2 918.1 902.4 915.5C902.5 912.8 902.7 910.1 902.9 907.5C903.1 904.8 903.3 902.1 903.4 899.5C903.6 896.8 903.7 894.1 903.8 891.5C903.9 888.8 904.1 886.1 904.1 883.5C904.2 880.8 904.3 878.1 904.4 875.5C904.4 872.8 904.5 870.1 904.5 867.5C904.5 864.8 904.5 862.1 904.5 859.5C904.5 856.8 904.4 854.2 904.4 851.5C904.3 848.8 904.2 846.2 904.1 843.5C904 840.9 903.8 838.2 903.7 835.6C903.5 832.9 903.3 830.3 903.1 827.7C902.8 825 902.6 822.4 902.3 819.8C902 817.1 901.7 814.5 901.4 811.9C901 809.3 900.7 806.6 900.3 804C899.9 801.4 899.4 798.8 898.9 796.2C898.5 793.6 898 791 897.4 788.4C896.9 785.8 896.3 783.2 895.7 780.6C895.1 778 894.5 775.5 893.9 772.9C893.2 770.3 892.5 767.8 891.8 765.2C891.2 762.6 890.4 760.1 889.7 757.5C888.9 755 888.2 752.4 887.4 749.9C886.6 747.3 885.8 744.8 885 742.2C884.1 739.7 883.3 737.2 882.4 734.6C881.6 732.1 880.7 729.6 879.8 727.1C878.9 724.6 878 722 877.1 719.5C876.1 717 875.2 714.5 874.2 712C873.3 709.5 872.3 707 871.4 704.5C870.4 702 869.4 699.5 868.4 697.1C867.4 694.6 866.5 692.1 865.5 689.6C864.5 687.1 863.4 684.7 862.4 682.2C861.4 679.7 860.4 677.3 859.4 674.8C858.4 672.4 857.4 669.9 856.3 667.5C855.3 665 854.3 662.6 853.3 660.1C852.3 657.7 851.3 655.2 850.2 652.8C849.2 650.4 848.2 647.9 847.2 645.6C846.1 643.2 845 640.8 843.7 638.5C842.4 636.3 841 634 839.4 631.9C837.8 629.9 835.9 627.8 833.9 626C831.9 624.2 829.7 622.5 827.4 621C825.1 619.5 822.7 618.2 820.3 617.1C817.8 616 815.3 615.1 812.8 614.3C810.3 613.5 807.7 612.9 805.1 612.4C802.5 611.9 799.8 611.6 797.2 611.3C794.6 611 791.9 610.8 789.2 610.7C786.6 610.6 783.9 610.5 781.3 610.5C778.7 610.5 776 610.5 773.4 610.6C770.8 610.6 768.2 610.7 765.5 610.8C762.9 610.8 760.3 610.9 757.6 611C755 611.1 752.3 611.1 749.6 611.1C746.9 611.2 744.2 611.2 741.4 611.1C738.7 611.1 735.9 611 733.2 611C730.4 611.1 727.7 611.1 725 611.3C722.4 611.6 719.7 611.9 717.2 612.5C714.8 613.2 712.4 614.1 710.1 615.2C707.8 616.4 705.7 617.8 703.6 619.4C701.6 620.9 699.6 622.8 697.6 624.6C695.7 626.4 693.8 628.4 692 630.4C690.1 632.4 688.3 634.4 686.5 636.5C684.7 638.5 683 640.6 681.3 642.8C679.7 644.9 678.1 647.1 676.7 649.3C675.2 651.5 673.8 653.8 672.5 656.1C671.2 658.3 670 660.7 668.8 663C667.7 665.3 666.6 667.7 665.5 670.1C664.5 672.5 663.5 675 662.5 677.4C661.6 679.9 660.7 682.3 659.8 684.8C658.9 687.3 658.1 689.8 657.2 692.3C656.4 694.8 655.6 697.3 654.8 699.9C654 702.4 653.2 704.9 652.4 707.5C651.6 710 650.8 712.6 650 715.1C649.2 717.7 648.3 720.2 647.5 722.8C646.7 725.4 645.9 727.9 645.1 730.5C644.3 733 643.5 735.6 642.7 738.2C641.9 740.7 641.2 743.3 640.4 745.9C639.7 748.4 638.9 751 638.2 753.6C637.5 756.2 636.8 758.8 636.1 761.4C635.4 763.9 634.8 766.5 634.1 769.1C633.5 771.7 632.9 774.3 632.4 776.9C631.8 779.5 631.3 782.1 630.9 784.7C630.4 787.3 629.9 789.9 629.5 792.5C629.1 795.2 628.8 797.8 628.4 800.4C628.1 803 627.8 805.6 627.5 808.2C627.2 810.9 627 813.5 626.8 816.1C626.5 818.8 626.3 821.4 626.2 824C626 826.7 625.9 829.3 625.8 831.9C625.7 834.6 625.6 837.2 625.5 839.9C625.5 842.5 625.4 845.2 625.4 847.8C625.4 850.4 625.4 853.1 625.4 855.7C625.4 858.4 625.5 861.1 625.5 863.7C625.6 866.4 625.7 869 625.8 871.7C625.9 874.3 626 877 626.1 879.7C626.2 882.3 626.4 885 626.5 887.6C626.7 890.3 626.9 893 627 895.6C627.2 898.3 627.4 901 627.6 903.6C627.8 906.3 628 909 628.2 911.6C628.4 914.3 628.6 917 628.8 919.6C629.1 922.3 629.3 925 629.5 927.6C629.8 930.3 630 933 630.2 935.6C630.5 938.3 630.7 941 631 943.6C631.3 946.3 631.5 949 631.8 951.6C632.1 954.3 632.4 957 632.7 959.6C633 962.3 633.3 964.9 633.6 967.6C633.9 970.2 634.3 972.9 634.6 975.5C635 978.2 635.3 980.8 635.7 983.5C636.1 986.1 636.5 988.8 636.9 991.4C637.3 994 637.8 996.6 638.2 999.3C638.7 1001.9 639.1 1004.5 639.6 1007.1C640.1 1009.7 640.6 1012.3 641.1 1014.9C641.6 1017.5 642.2 1020.1 642.8 1022.7C643.3 1025.3 643.9 1027.9 644.5 1030.4C645.2 1033 645.8 1035.6 646.5 1038.1C647.1 1040.7 647.8 1043.2 648.5 1045.8C649.3 1048.3 650 1050.8 650.8 1053.4C651.6 1055.9 652.4 1058.4 653.2 1060.9C654 1063.4 654.9 1065.9 655.8 1068.4C656.6 1070.9 657.6 1073.3 658.5 1075.8C659.4 1078.3 660.4 1080.7 661.4 1083.2C662.3 1085.7 663.4 1088.1 664.4 1090.6C665.4 1093 666.4 1095.5 667.5 1097.9C668.5 1100.3 669.6 1102.8 670.7 1105.2C671.8 1107.7 672.9 1110.1 674 1112.5C675.1 1115 676.2 1117.4 677.4 1119.8C678.5 1122.3 679.6 1124.7 680.8 1127.1C681.9 1129.6 683.1 1132 684.2 1134.5C685.4 1136.9 686.5 1139.4 687.7 1141.8C688.9 1144.2 690 1146.7 691.2 1149.1C692.4 1151.6 693.6 1154 694.9 1156.3C696.2 1158.7 697.5 1161 698.9 1163.3C700.2 1165.5 701.7 1167.7 703.2 1169.8C704.7 1171.9 706.3 1173.9 708.1 1175.8C709.8 1177.7 711.6 1179.5 713.5 1181.2C715.5 1182.8 717.6 1184.4 719.8 1185.8C722 1187.1 724.4 1188.4 726.9 1189.4C729.4 1190.4 733.6 1191.6 735 1192Z"/>
<path fill="#e35554" d="M402.5 1180L1108 1185.5L1108 1213.5L402.5 1213Z"/>
<g fill="none" stroke-linecap="round" stroke-linejoin="round">
<path stroke="#12a6a0" stroke-width="1.85" d="M680 428.8C680.4 427.9 681.2 424.8 682.5 423.8C683.8 422.7 685.8 422.1 687.5 422.5C689.2 422.9 691 424.6 692.5 426.2C694 427.9 695.4 430.4 696.2 432.5C697.1 434.6 697.9 436.7 697.5 438.8C697.1 440.8 694.7 442.7 694 445C693.3 447.3 692.8 450 693.1 452.5C693.5 455 694.7 457.5 696.2 460C697.8 462.5 700.8 465 702.5 467.5C704.2 470 705.2 472.1 706.2 475C707.3 477.9 708.1 481.9 708.8 485C709.4 488.1 709.9 490.8 710 493.8C710.1 496.7 709.2 500 709.4 502.5C709.6 505 709.9 506.5 711.2 508.8C712.6 511 715.6 513.8 717.5 516.2C719.4 518.8 721.1 521 722.5 523.8C723.9 526.5 724.8 529.2 725.6 532.5C726.5 535.8 727.1 540.4 727.5 543.8C727.9 547.1 728 549.6 727.8 552.5C727.5 555.4 727.3 558.3 726.2 561.2C725.2 564.2 722.1 568.5 721.2 570M697.5 438.8C698.8 438 702.1 435.4 705 434.4C707.9 433.3 713.3 432.8 715 432.5M716.2 443.8C717.3 443.6 720.6 442.7 722.5 443.1C724.4 443.5 726.2 444.7 727.5 446.2C728.8 447.8 729.6 450.2 730 452.5C730.4 454.8 730.2 457.7 730 460C729.8 462.3 729.6 464 728.8 466.2C727.9 468.5 726.5 471 725 473.8C723.5 476.5 721.7 480 720 482.5C718.3 485 716.5 487 715 488.8C713.5 490.5 711.7 492.4 711 493.1M728.8 466.2C729.6 465.8 731.9 464.3 733.8 463.8C735.6 463.2 739 463.2 740 463.1M738.8 435C739.8 436 743.2 439 745 441.2C746.8 443.5 748.4 446.2 749.4 448.8C750.3 451.2 750.5 453.5 750.6 456.2C750.7 459 750.5 462.3 750 465C749.5 467.7 748.8 470.4 747.5 472.5C746.2 474.6 744.4 475.8 742.5 477.5C740.6 479.2 738.8 480.8 736.2 482.5C733.8 484.2 730.6 486 727.5 487.5C724.4 489 720.2 490.3 717.5 491.2C714.8 492.2 712.1 492.8 711 493.1M750.6 455C751.4 454.2 753 451.7 755 450C757 448.3 760.3 446.6 762.5 445C764.7 443.4 766.9 442 768.1 440.6C769.4 439.3 770.3 438.1 770 436.9C769.7 435.6 768.2 433.8 766.5 433.2C764.8 432.7 761.1 433.5 760 433.5M769.8 439C770.6 439 773.3 438.6 775 439C776.7 439.4 779.2 440.9 780 441.2M665.6 483.8C664.9 484.6 662.1 486.7 661.2 488.8C660.4 490.8 660.2 493.5 660.6 496.2C661 499 662.4 501.7 663.8 505C665.1 508.3 667.3 512.7 668.8 516.2C670.2 519.8 671.5 523.3 672.5 526.2C673.5 529.2 674.5 531.2 675 533.8C675.5 536.2 674.8 539.2 675.6 541.2C676.5 543.3 678.2 544.8 680 546.2C681.8 547.7 683.5 547.9 686.2 550C689 552.1 694.2 556 696.2 558.8C698.3 561.5 698.3 564 698.8 566.2C699.2 568.5 699.1 570.4 698.8 572.5C698.4 574.6 697.2 577.7 696.9 578.8M675 491.2C674.7 492.5 673.2 496.2 673.1 498.8C673 501.2 673.6 503.8 674.4 506.2C675.1 508.8 676.9 511.2 677.5 513.8C678.1 516.2 678.3 518.5 678.1 521.2C677.9 524 676.8 527.7 676.2 530C675.7 532.3 675.2 534.2 675 535M690 504.4C690.6 505.3 692.9 507.8 693.8 510C694.6 512.2 695.4 515 695 517.5C694.6 520 693.1 522.5 691.2 525C689.4 527.5 685.6 530.2 683.8 532.5C681.9 534.8 680.6 536.9 680 538.8C679.4 540.6 680 542.5 680 543.8C680 545 680.2 546 680.2 546.5M755.6 502.5C754.5 503.1 750.7 504.6 748.8 506.2C746.8 507.9 745 509.8 743.8 512.5C742.5 515.2 741.9 519.2 741.2 522.5C740.6 525.8 740.3 529.2 740 532.5C739.7 535.8 739.6 539.6 739.4 542.5C739.2 545.4 739.5 547.1 738.8 550C738 552.9 736.7 556.9 735 560C733.3 563.1 731.7 566.5 728.8 568.8C725.8 571 721.5 572.3 717.5 573.8C713.5 575.2 709.2 576 705 577.5C700.8 579 696.2 580.6 692.5 582.5C688.8 584.4 685.4 586.5 682.5 588.8C679.6 591 677.3 593.3 675 596.2C672.7 599.2 670.8 602.7 668.8 606.2C666.7 609.8 664.6 613.5 662.5 617.5C660.4 621.5 658.3 625.8 656.2 630C654.2 634.2 652.1 638.3 650 642.5C647.9 646.7 645.8 650.8 643.8 655C641.7 659.2 639.6 663.3 637.5 667.5C635.4 671.7 635.4 668.6 631.2 680C627.1 691.4 616.2 720.7 612.5 736C608.8 751.3 609.8 761.3 609 772C608.2 782.7 608.2 791.2 607.9 800C607.6 808.8 607.1 816.7 607.2 825C607.4 833.3 607.9 841.7 608.5 850C609.1 858.3 609.7 866.7 610.6 875C611.5 883.3 612.8 891.7 613.8 900C614.7 908.3 615.3 916.7 616.2 925C617.2 933.3 618.4 942.2 619.4 950C620.4 957.8 621.4 964.2 622.5 972C623.6 979.8 624.8 988.7 626 997C627.2 1005.3 628.1 1014 630 1022C631.9 1030 633.8 1036.6 637.5 1045C641.2 1053.4 647.9 1063.8 652.5 1072.5C657.1 1081.2 660.8 1089.6 665 1097.5C669.2 1105.4 673.8 1112.9 677.5 1120C681.2 1127.1 684.6 1133.8 687.5 1140C690.4 1146.2 693.1 1152.5 695 1157.5C696.9 1162.5 698.3 1166.2 698.8 1170C699.2 1173.8 698.5 1176.7 697.5 1180C696.5 1183.3 695 1187.5 692.5 1190C690 1192.5 687.5 1193.8 682.5 1195C677.5 1196.2 670 1196.7 662.5 1197.5C655 1198.3 645.8 1199.6 637.5 1200C629.2 1200.4 620.4 1200.4 612.5 1200C604.6 1199.6 597.1 1199 590 1197.5C582.9 1196 576.7 1193.1 570 1191C563.3 1188.9 556.7 1186.3 550 1185C543.3 1183.7 537.1 1183 530 1183C522.9 1183 514.6 1183.8 507.5 1185C500.4 1186.2 493.8 1187.9 487.5 1190C481.2 1192.1 476.2 1195.4 470 1197.5C463.8 1199.6 457.5 1201.9 450 1202.5C442.5 1203.1 432 1202.1 425 1201C418 1199.9 410.8 1196.8 408 1196M740.2 533.8C741.9 533.1 746.5 531.2 750 530C753.5 528.8 758.1 527.7 761.2 526.2C764.4 524.8 766.7 523.3 768.8 521.2C770.8 519.2 772.7 516 773.8 513.8C774.8 511.5 774.8 508.5 775 507.5M766.2 491.2C765.7 492.1 763.8 494.2 763.1 496.2C762.5 498.3 762 501.5 762.5 503.8C763 506 765.3 507.9 766.2 510C767.2 512.1 767.9 514.3 768.1 516.2C768.3 518.2 767.6 520.9 767.5 521.9M803.8 421.9C804.8 422.3 808.1 423 810 424.4C811.9 425.7 813.9 427.8 815 430C816.1 432.2 816.8 435 816.9 437.5C817 440 816.4 442.5 815.6 445C814.9 447.5 813.6 449.8 812.5 452.5C811.4 455.2 809.7 458.3 808.8 461.2C807.8 464.2 807.2 466.9 806.9 470C806.6 473.1 806.8 477.1 806.9 480C807 482.9 807 484.6 807.5 487.5C808 490.4 808.8 494.4 810 497.5C811.2 500.6 813.1 503.1 815 506.2C816.9 509.4 819.2 512.9 821.2 516.2C823.3 519.6 825.6 523.1 827.5 526.2C829.4 529.4 830.8 532.1 832.5 535C834.2 537.9 836 540.8 837.5 543.8C839 546.7 840.2 549.4 841.2 552.5C842.3 555.6 843.2 559.9 843.8 562.5C844.3 565.1 844.4 567.1 844.5 568M795.6 435C796.8 435.1 800.3 434.9 802.5 435.6C804.7 436.4 807.2 437.8 808.8 439.4C810.3 440.9 811.2 442.8 811.9 445C812.5 447.2 812.4 451.2 812.5 452.5M776.2 478.8C777.3 478.1 780.2 475.7 782.5 475C784.8 474.3 787.7 474 790 474.4C792.3 474.8 794.4 476.1 796.2 477.5C798.1 478.9 799.8 480.6 801.2 482.5C802.7 484.4 803.9 487 805 488.8C806.1 490.5 807.3 492.4 807.8 493.1M820.6 440.6C820.7 441.8 820.5 445.3 821.2 447.5C822 449.7 823.1 452.1 825 453.8C826.9 455.4 830.4 456 832.5 457.5C834.6 459 836.4 460.4 837.5 462.5C838.6 464.6 839.1 467.5 839.4 470C839.7 472.5 839.6 474.8 839.4 477.5C839.2 480.2 838.4 483.8 838.1 486.2C837.8 488.8 837.6 491.5 837.5 492.5M829.4 464.4C828.6 465.5 825.9 468.6 825 471.2C824.1 473.9 823.5 477.5 823.8 480C824 482.5 824.8 484.6 826.2 486.2C827.7 487.9 830.2 488.9 832.5 490C834.8 491.1 837.7 491.9 840 493.1C842.3 494.4 844.4 495.7 846.2 497.5C848.1 499.3 850.1 501.7 851.2 503.8C852.4 505.8 852.8 509 853.1 510M851.2 481.9C851.6 483.2 852.6 487 853.1 490C853.6 493 854.2 496.7 854.4 500C854.6 503.3 854.8 506.9 854.4 510C854 513.1 853 515.8 851.9 518.8C850.7 521.7 849 524.6 847.5 527.5C846 530.4 844 533.1 843.1 536.2C842.2 539.4 842.2 543.5 842.2 546.2C842.3 549 843 550.6 843.5 552.5C844 554.4 844.3 555 845 557.5C845.7 560 846.9 564.2 847.5 567.5C848.1 570.8 848.5 575.8 848.8 577.5M817.5 489.4C818.5 490.5 822 493.6 823.8 496.2C825.5 498.9 827.1 502.1 828.1 505C829.2 507.9 829.7 510.8 830 513.8C830.3 516.7 830.3 519.8 830 522.5C829.7 525.2 828.4 528.8 828.1 530M790.6 545C791.4 545.7 793 548.2 795 549.4C797 550.5 800 551.7 802.5 551.9C805 552.1 808 551 810 550.6C812 550.2 813.6 549.6 814.4 549.4M806.9 526.2C807 527.7 807 532.1 807.5 535C808 537.9 809.2 541.9 810 543.8C810.8 545.6 810.8 544.8 812.5 546.2C814.2 547.7 817.1 550.6 820 552.5C822.9 554.4 826.9 555.8 830 557.5C833.1 559.2 836.2 560.6 838.8 562.5C841.2 564.4 843.3 566.2 845 568.8C846.7 571.2 847.8 574.4 848.8 577.5C849.7 580.6 850.1 584.2 850.6 587.5C851.1 590.8 851.4 594.2 851.9 597.5C852.4 600.8 853 604.4 853.8 607.5C854.5 610.6 855 612.9 856.2 616.2C857.5 619.6 859.2 623.8 861.2 627.5C863.3 631.2 866.2 635.2 868.8 638.8C871.2 642.3 874 645.6 876.2 648.8C878.5 651.9 880.6 654.4 882.5 657.5C884.4 660.6 886 664.2 887.5 667.5C889 670.8 890.2 673.8 891.2 677.5C892.3 681.2 893.1 684.9 893.8 690C894.4 695.1 894.7 700.3 895 708C895.3 715.7 895.5 725.3 895.5 736C895.5 746.7 894.5 762.7 895 772C895.5 781.3 897.1 785.3 898.8 792C900.4 798.7 902.7 806.2 905 812C907.3 817.8 910.2 822.4 912.5 827C914.8 831.6 916.9 834.5 918.8 839.5C920.6 844.5 922.7 850.8 923.8 857C924.8 863.2 925.2 870.3 925 877C924.8 883.7 923.5 889.5 922.5 897C921.5 904.5 920.2 913.7 918.8 922C917.3 930.3 915.6 938.7 913.8 947C911.9 955.3 910 963.7 907.5 972C905 980.3 902.1 988.7 898.8 997C895.4 1005.3 891.5 1013.2 887.5 1022C883.5 1030.8 879.2 1039.8 875 1049.5C870.8 1059.2 866.7 1070.2 862.5 1080C858.3 1089.8 853.8 1099.7 850 1108C846.2 1116.3 842.7 1123.4 840 1130C837.3 1136.6 835 1141.7 833.8 1147.5C832.5 1153.3 832.1 1160 832.5 1165C832.9 1170 834.3 1174.2 836 1177.5C837.7 1180.8 840.2 1183.3 842.5 1185C844.8 1186.7 845.8 1187 850 1187.5C854.2 1188 860.8 1187.8 867.5 1188C874.2 1188.2 882.9 1188.6 890 1188.8C897.1 1188.9 903.3 1188.8 910 1189C916.7 1189.2 921.7 1189.7 930 1190C938.3 1190.3 950 1190.7 960 1191C970 1191.3 980 1191.6 990 1192C1000 1192.4 1010 1192.9 1020 1193.5C1030 1194.1 1041.2 1195.1 1050 1195.5C1058.8 1195.9 1065.8 1196.8 1072.5 1196C1079.2 1195.2 1085 1192.2 1090 1191C1095 1189.8 1100.4 1189.1 1102.5 1188.8M776.9 552.5C776.6 553.3 776.4 555.8 775 557.5C773.6 559.2 771.2 561.2 768.8 562.5C766.2 563.8 763.1 564.6 760 565C756.9 565.4 752.9 565.3 750 565C747.1 564.7 744.8 563.5 742.5 563.1C740.2 562.7 737.3 562.6 736.2 562.5M772.5 565C772.4 566 772.7 569.7 771.9 571.2C771 572.8 769.3 574.2 767.5 574.4C765.7 574.6 763.3 573.6 761.2 572.5C759.2 571.4 756.8 568.8 755 567.5C753.2 566.2 751 565.4 750.2 565"/>
<path stroke="#12a6a0" stroke-width="1.8" d="M698.8 1175C699.8 1175.8 702.3 1178.3 705 1180C707.7 1181.7 710.8 1183.7 715 1185C719.2 1186.3 725 1187.4 730 1188C735 1188.6 740 1189.1 745 1188.8C750 1188.4 755.4 1186.5 760 1186C764.6 1185.5 768.3 1185.5 772.5 1186C776.7 1186.5 781.2 1187.5 785 1188.8C788.8 1190 791.2 1192.1 795 1193.8C798.8 1195.4 803.3 1197.8 807.5 1198.8C811.7 1199.7 815.8 1200 820 1199.5C824.2 1199 828.8 1197.4 832.5 1196C836.2 1194.6 839.6 1192.4 842.5 1191C845.4 1189.6 848.8 1188.1 850 1187.5"/>
<path stroke="#49687e" stroke-width="1.85" d="M647.5 417.5C650 419.5 657.4 425.4 662.5 429.4C667.6 433.3 674.4 438 678.1 441.2C681.9 444.5 683.3 446 685 448.8C686.7 451.5 687.8 454.4 688.1 457.5C688.4 460.6 687.8 464.7 686.9 467.5C685.9 470.3 683.9 472.5 682.5 474.4C681.1 476.3 679.4 478.2 678.8 479M666.2 418.8C667.5 419.4 671.7 420.7 673.8 422.5C675.8 424.3 677.5 427.2 678.5 429.4C679.5 431.6 679.7 433.6 679.6 435.6C679.6 437.6 678.4 440.3 678.1 441.2M650.6 447.2C651.9 448 656.2 449.8 658.1 451.9C660 454 660.8 456.9 661.9 460C662.9 463.1 662.7 467.9 664.4 470.6C666 473.3 669.5 474.8 671.9 476.2C674.3 477.7 676.8 477.5 678.8 479.4C680.7 481.2 681.9 484.5 683.8 487.5C685.6 490.5 687.3 494.2 690 497.5C692.7 500.8 696.9 504.4 700 507.5C703.1 510.6 706.6 513.3 708.8 516.2C710.9 519.2 712.5 521.9 713.1 525C713.8 528.1 713.1 532.5 712.8 535C712.4 537.5 712.3 537.7 711.2 540C710.2 542.3 708.1 545.8 706.2 548.8C704.4 551.7 702.3 554.2 700 557.5C697.7 560.8 695.2 565 692.5 568.8C689.8 572.5 686.5 576.5 683.8 580C681 583.5 678.3 586.7 676.2 590C674.2 593.3 672.7 596.7 671.2 600C669.8 603.3 668.8 606.2 667.5 610C666.2 613.8 665.2 618.3 663.8 622.5C662.3 626.7 660.6 630.8 658.8 635C656.9 639.2 654.8 643.3 652.5 647.5C650.2 651.7 647.5 655.8 645 660C642.5 664.2 639.9 668.1 637.5 672.5C635.1 676.9 635.6 675.7 630.6 686.2C625.6 696.8 612.3 721.7 607.5 736C602.7 750.3 603.2 761.8 602 772C600.8 782.2 600.3 788.7 600 797C599.7 805.3 599.6 813.7 600 822C600.4 830.3 601.7 838.7 602.5 847C603.3 855.3 604 863.7 605 872C606 880.3 607.8 888.7 608.8 897C609.8 905.3 610.4 913.7 611 922C611.6 930.3 612 938.7 612.5 947C613 955.3 613.2 964.5 613.8 972C614.3 979.5 614.5 985.3 616 992C617.5 998.7 620.2 1005.3 622.5 1012C624.8 1018.7 627.1 1024.8 630 1032C632.9 1039.2 636.7 1047.3 640 1055C643.3 1062.7 647.1 1071.3 650 1078C652.9 1084.7 655 1087.6 657.5 1095C660 1102.4 662.1 1115 665 1122.5C667.9 1130 672.1 1134.2 675 1140C677.9 1145.8 680.8 1152.5 682.5 1157.5C684.2 1162.5 685.2 1165.8 685 1170C684.8 1174.2 683.1 1179.2 681 1182.5C678.9 1185.8 676.4 1188.1 672.5 1190C668.6 1191.9 663.3 1192.5 657.5 1193.8C651.7 1195 645 1196.5 637.5 1197.5C630 1198.5 620.8 1199.1 612.5 1199.5C604.2 1199.9 595.8 1200.1 587.5 1200C579.2 1199.9 569.6 1199.4 562.5 1198.8C555.4 1198.1 550.4 1197 545 1196C539.6 1195 535 1192.8 530 1192.5C525 1192.2 520 1193.9 515 1194.5C510 1195.1 505.4 1196 500 1196C494.6 1196 487.5 1195.3 482.5 1194.5C477.5 1193.7 475.4 1191.8 470 1191C464.6 1190.2 456.7 1190 450 1190C443.3 1190 437 1190.4 430 1191C423 1191.6 411.7 1193.3 408 1193.8M705 429.4C704.7 430.4 703 433.3 703.1 435.6C703.2 437.9 704.1 440.7 705.6 443.1C707.2 445.5 710.7 447.6 712.5 450C714.3 452.4 716 455 716.2 457.5C716.5 460 715.6 462.7 713.8 465C711.9 467.3 708.1 469.6 705 471.2C701.9 472.9 697.8 473.3 695 475C692.2 476.7 689.8 479.1 688.1 481.2C686.5 483.4 685.5 486.2 685.2 488.1C685 490 686.3 491.8 686.5 492.5M737.5 460C738.8 460.8 743 462.9 745 465C747 467.1 748.5 470 749.4 472.5C750.2 475 750.3 477.1 750 480C749.7 482.9 749.2 486.7 747.5 490C745.8 493.3 742.9 497.1 740 500C737.1 502.9 732.9 505.4 730 507.5C727.1 509.6 724.6 510.6 722.5 512.5C720.4 514.4 719 516.5 717.5 518.8C716 521 714.2 525 713.5 526.2M750 480C751.9 479.1 757.3 476.5 761.2 474.4C765.2 472.3 770.1 469.8 773.8 467.5C777.4 465.2 781 462.8 783.1 460.6C785.2 458.4 785.7 456.4 786.2 454.4C786.8 452.4 786.5 449.7 786.5 448.8M670.6 502.5C670.9 503.8 671.4 507.5 672.5 510C673.6 512.5 675.2 515.6 677.5 517.5C679.8 519.4 683.3 520.2 686.2 521.2C689.2 522.3 692.3 522.3 695 523.8C697.7 525.2 700.6 527.5 702.5 530C704.4 532.5 705.5 535.9 706.2 538.8C707 541.6 707 545.5 707.1 546.9M757.5 507.5C756.7 509.2 753.6 514.2 752.5 517.5C751.4 520.8 750.4 524.2 750.6 527.5C750.8 530.8 752.6 534.6 753.8 537.5C754.9 540.4 756.6 542.1 757.5 545C758.4 547.9 758.8 552.7 759 555C759.2 557.3 758.8 558.1 758.8 558.8M783.8 490C783.3 491 781.3 494 781.2 496.2C781.2 498.5 782.2 501.4 783.5 503.8C784.8 506.1 787.9 509.2 788.8 510.2M791.2 496.9C791.5 497.7 792.8 500.2 792.9 501.9C792.9 503.5 792.2 505.4 791.5 506.9C790.8 508.3 789.8 508.4 788.8 510.6C787.7 512.8 786.5 516.4 785 520C783.5 523.6 781.6 528.9 780 532.5C778.4 536.1 777.1 539.4 775.6 541.9C774.2 544.4 773.9 545.1 771.2 547.5C768.6 549.9 763.8 553.9 760 556.2C756.2 558.6 752.7 560.4 748.8 561.9C744.8 563.3 740.6 564.3 736.2 565C731.9 565.7 726.9 565.6 722.5 566.2C718.1 566.9 714.2 567.5 710 568.8C705.8 570 701.2 572.1 697.5 573.8C693.8 575.4 690.4 576.7 687.5 578.8C684.6 580.8 682.2 583.9 680 586.2C677.8 588.6 675.3 592 674.4 593.1M783.8 460C785 460.5 788.5 462.3 791.2 463.1C794 464 797.3 464.6 800 465C802.7 465.4 805.4 465.7 807.5 465.6C809.6 465.6 811.7 464.9 812.5 464.8M841.9 422.5C842.7 423.2 845.6 425.2 846.9 426.9C848.1 428.5 848.9 430.5 849.4 432.5C849.8 434.5 849.7 437.1 849.6 438.8C849.5 440.4 848.9 441.9 848.8 442.5M833.8 426.9C834.8 427.5 838 429.1 840 430.6C842 432.2 844.2 434.3 845.6 436.2C847.1 438.2 848 440.2 848.8 442.5C849.5 444.8 850 447.5 850.2 450C850.5 452.5 850.2 455 850 457.5C849.8 460 849.4 462.1 848.8 465C848.1 467.9 847.3 471.7 846.2 475C845.2 478.3 843.8 481.9 842.5 485C841.2 488.1 839.4 492.3 838.8 493.8M858.8 436.2C859.7 436.2 862.8 435.6 864.4 436.2C865.9 436.9 867.5 438.3 868.1 440C868.8 441.7 868.6 444.4 868.1 446.2C867.6 448.1 866.6 450 865 451.2C863.4 452.5 860.6 452.9 858.8 453.8C856.9 454.6 855.2 455.3 853.8 456.2C852.3 457.2 850.6 458.9 850 459.4M833.1 446.2C833.2 447 833 449.4 833.8 450.6C834.5 451.9 835.8 452.9 837.5 453.8C839.2 454.6 841.8 455 843.8 455.6C845.7 456.3 848.4 457.4 849.4 457.8M823.8 455C823.1 455.8 820.8 457.9 820 460C819.2 462.1 818.8 465.2 818.8 467.5C818.8 469.8 819 471.9 820 473.8C821 475.6 823.1 477.1 825 478.8C826.9 480.4 829.4 482.1 831.2 483.8C833.1 485.4 835 487.1 836.2 488.8C837.5 490.4 837.9 491.7 838.8 493.8C839.6 495.8 840.4 499 841.2 501.2C842.1 503.5 842.9 505 843.8 507.5C844.6 510 845.4 513.3 846.2 516.2C847.1 519.2 848.2 521.9 848.8 525C849.3 528.1 849.8 532.5 849.4 535C849 537.5 847.2 537.5 846.2 540C845.3 542.5 844.5 546.7 843.8 550C843 553.3 842.1 556.5 841.9 560C841.7 563.5 842.2 567.5 842.5 571.2C842.8 575 843.2 579 843.8 582.5C844.3 586 845.2 589.8 845.6 592.5C846.1 595.2 846.4 597.9 846.5 599M855.6 475.6C856.1 476.6 858.1 479.3 858.8 481.2C859.4 483.2 859.8 485.4 859.4 487.5C859 489.6 857.8 491.9 856.2 493.8C854.7 495.6 851.8 497.1 850 498.8C848.2 500.4 846.7 502.2 845.6 503.8C844.6 505.2 844.1 507.1 843.8 507.8M815.6 495.6C816.6 496.4 819.5 497.8 821.2 500C823 502.2 825.1 505.8 826.2 508.8C827.4 511.7 827.8 514.6 828.1 517.5C828.4 520.4 828.4 523.8 828.1 526.2C827.8 528.8 826.9 530.2 826.2 532.5C825.6 534.8 824.9 537.9 824.4 540C823.9 542.1 823.2 543.3 823.1 545C823 546.7 823.4 547.5 823.8 550C824.1 552.5 824.5 556.9 825 560C825.5 563.1 826.1 566.2 826.9 568.8C827.6 571.3 829 574.2 829.4 575.2M833.8 506.9C834.2 508 836 511.6 836.2 513.8C836.5 515.9 835.8 517.9 835 520C834.2 522.1 832.6 524.3 831.2 526.2C829.9 528.2 827.6 530.6 826.9 531.5M815.6 530C816 531 816.6 534.4 818.1 536.2C819.7 538.1 822.8 539.2 825 541.2C827.2 543.3 829.7 546.2 831.2 548.8C832.8 551.2 834 553.5 834.4 556.2C834.8 559 834.3 562.3 833.8 565C833.2 567.7 832 570.7 831.2 572.5C830.5 574.3 829.8 575.1 829.5 575.6M806.9 500C807.3 501.7 809.1 506.9 809.4 510C809.7 513.1 809.5 516 808.8 518.8C808 521.5 806.9 524 805 526.2C803.1 528.5 800.4 530.8 797.5 532.5C794.6 534.2 791.2 534.8 787.5 536.2C783.8 537.7 777.1 540.4 775 541.2M787.5 552.5C787.1 553.5 785.2 556.7 785 558.8C784.8 560.8 785.2 563.2 786.2 565C787.3 566.8 789 568.2 791.2 569.4C793.5 570.5 796.9 571.6 800 571.9C803.1 572.2 806.7 571.4 810 571.2C813.3 571.1 817.1 570.6 820 571.2C822.9 571.9 825.2 573.3 827.5 575C829.8 576.7 831.7 578.8 833.8 581.2C835.8 583.8 837.9 587.1 840 590C842.1 592.9 844 595.8 846.2 598.8C848.5 601.7 851.2 604.4 853.8 607.5C856.2 610.6 858.8 614.4 861.2 617.5C863.8 620.6 866.7 623.5 868.8 626.2C870.8 629 872.6 631 873.8 633.8C874.9 636.5 875 639.4 875.6 642.5C876.2 645.6 876.8 648.8 877.5 652.5C878.2 656.2 879.2 660.8 880 665C880.8 669.2 881.7 673.3 882.5 677.5C883.3 681.7 884.2 684.9 885 690C885.8 695.1 885.8 700.3 887.5 708C889.2 715.7 891.7 725.3 895 736C898.3 746.7 904.2 761.8 907.5 772C910.8 782.2 913.4 788.7 915 797C916.6 805.3 916.7 813.7 917 822C917.3 830.3 917.3 838.7 917 847C916.7 855.3 915.8 863.7 915 872C914.2 880.3 913.2 887.8 912.5 897C911.8 906.2 911.4 918.7 911 927C910.6 935.3 910.6 940.3 910 947C909.4 953.7 908.8 960.3 907.5 967C906.2 973.7 904.6 979.9 902.5 987C900.4 994.1 897.9 1001.6 895 1009.5C892.1 1017.4 888.8 1025.2 885 1034.5C881.2 1043.8 876.7 1055.8 872.5 1065C868.3 1074.2 864.6 1081.7 860 1090C855.4 1098.3 849.6 1107.5 845 1115C840.4 1122.5 835.7 1128.8 832.5 1135C829.3 1141.2 827.5 1146.7 826 1152.5C824.5 1158.3 823.8 1165 823.8 1170C823.8 1175 824.1 1178.8 826 1182.5C827.9 1186.2 831 1190.2 835 1192.5C839 1194.8 843.8 1195.2 850 1196C856.2 1196.8 864.6 1197.6 872.5 1197.5C880.4 1197.4 890.4 1196.3 897.5 1195.5C904.6 1194.7 908.8 1193.4 915 1192.5C921.2 1191.6 927.5 1190.2 935 1190C942.5 1189.8 951.7 1190.5 960 1191C968.3 1191.5 976.7 1192.3 985 1193C993.3 1193.7 1001.7 1194.5 1010 1195C1018.3 1195.5 1026.7 1195.6 1035 1196C1043.3 1196.4 1051.7 1197 1060 1197.5C1068.3 1198 1077.9 1198.8 1085 1198.8C1092.1 1198.8 1099.6 1197.7 1102.5 1197.5"/>
<path stroke="#49687e" stroke-width="1.8" d="M408 1187.5C412.9 1187.8 428.4 1188.6 437.5 1189C446.6 1189.4 456.2 1189.4 462.5 1190C468.8 1190.6 470.8 1191.7 475 1192.5C479.2 1193.3 482.1 1194.6 487.5 1195C492.9 1195.4 501.2 1195.7 507.5 1195C513.8 1194.3 517.9 1192 525 1191C532.1 1190 541.7 1189.3 550 1188.8C558.3 1188.2 566.7 1187.8 575 1187.5C583.3 1187.2 591.7 1187.1 600 1187C608.3 1186.9 616.7 1186.8 625 1187C633.3 1187.2 642.5 1187.5 650 1188C657.5 1188.5 663.8 1189.2 670 1190C676.2 1190.8 680.4 1191.2 687.5 1192.5C694.6 1193.8 704.2 1195.9 712.5 1197.5C720.8 1199.1 729.6 1201.6 737.5 1202C745.4 1202.4 754.2 1201 760 1200C765.8 1199 768.3 1197.3 772.5 1196C776.7 1194.7 780.8 1192.8 785 1192C789.2 1191.2 793.3 1190.7 797.5 1191C801.7 1191.3 805.4 1192.9 810 1193.8C814.6 1194.6 820.3 1195.9 825 1196C829.7 1196.1 835.8 1194.8 838 1194.5M915 1192.5C918.3 1192.7 927.5 1193.4 935 1193.5C942.5 1193.6 951.7 1192.8 960 1193C968.3 1193.2 976.7 1194.1 985 1194.5C993.3 1194.9 1001.7 1195.4 1010 1195.5C1018.3 1195.6 1026.7 1195.2 1035 1195C1043.3 1194.8 1052.5 1194.9 1060 1194.5C1067.5 1194.1 1074.2 1193.3 1080 1192.5C1085.8 1191.7 1091.2 1190.1 1095 1189.5C1098.8 1188.9 1101.2 1188.9 1102.5 1188.8M1072.5 1197.5C1074.6 1197.9 1080 1200.2 1085 1200C1090 1199.8 1099.6 1196.9 1102.5 1196.2"/>
</g>
<g font-family="'Liberation Sans', Arial, sans-serif" fill="#1d4559" stroke="#1d4559" stroke-linejoin="round" opacity="0.999" text-rendering="geometricPrecision">
<text transform="translate(488,71.3) scale(1.05,1)" font-size="61.5" font-weight="bold" letter-spacing="0.58" stroke-width="0.8">Tooth anatomy</text>
<text transform="translate(185.9,226.6) scale(1.05,1)" font-size="42" font-weight="normal" letter-spacing="0.32" stroke-width="1.1">Enamel</text>
<text transform="translate(174.5,355.8) scale(1.05,1)" font-size="42" font-weight="normal" letter-spacing="1.6" stroke-width="1.1">Dentine</text>
<text transform="translate(114.5,485.1) scale(1.05,1)" font-size="42" font-weight="normal" letter-spacing="0.84" stroke-width="1.1">Pulp cavity</text>
<text transform="translate(218,614.1) scale(1.05,1)" font-size="42" font-weight="normal" letter-spacing="0.38" stroke-width="1.1">Gums</text>
<text transform="translate(232,743.3) scale(1.05,1)" font-size="42" font-weight="normal" letter-spacing="0.54" stroke-width="1.1">Bone</text>
<text transform="translate(109.2,872.1) scale(1.05,1)" font-size="42" font-weight="normal" letter-spacing="1.73" stroke-width="1.1">Cementum</text>
<text transform="translate(115.2,1001.6) scale(1.05,1)" font-size="42" font-weight="normal" letter-spacing="0.19" stroke-width="1.1">Root Canal</text>
<text transform="translate(125,1121.3) scale(1.05,1)" font-size="42" font-weight="normal" letter-spacing="1.07" stroke-width="1.1">Nerve and</text>
<text transform="translate(39.2,1171.3) scale(1.05,1)" font-size="42" font-weight="normal" letter-spacing="0.44" stroke-width="1.1">blood vesseles</text>
<text transform="translate(1250,324.6) scale(1.05,1)" font-size="42" font-weight="normal" letter-spacing="1.67" stroke-width="1.1">Crown</text>
<text transform="translate(1250.3,850) scale(1.05,1)" font-size="42" font-weight="normal" letter-spacing="0.86" stroke-width="1.1">Root</text>
</g>
<g stroke="#1d4559" stroke-width="3" fill="none" stroke-linecap="round" stroke-linejoin="miter">
<path d="M354 213.8 H537"/>
<path d="M354 342.8 H568"/>
<path d="M354 471.8 H639"/>
<path d="M354 600.8 H465"/>
<path d="M354 729.8 H441"/>
<path d="M354 858.8 H529"/>
<path d="M354 987.8 H615"/>
<path d="M354 1112 H661"/>
<path d="M1090.5 141.5 H1159.2 V513 H1090.5 M1159.2 311.5 H1230.5"/>
<path d="M1092 528.7 H1158.3 V1142 H1092 M1158.3 835 H1230.5"/>
</g>
<g fill="#1d4559">
<circle cx="537" cy="213.8" r="4.7"/>
<circle cx="568" cy="342.8" r="4.7"/>
<circle cx="639" cy="471.8" r="4.7"/>
<circle cx="465" cy="600.8" r="4.7"/>
<circle cx="441" cy="729.8" r="4.7"/>
<circle cx="529" cy="858.8" r="4.7"/>
<circle cx="615" cy="987.8" r="4.7"/>
<circle cx="661" cy="1112" r="4.7"/>
</g>
</svg>
</body>
</html>
